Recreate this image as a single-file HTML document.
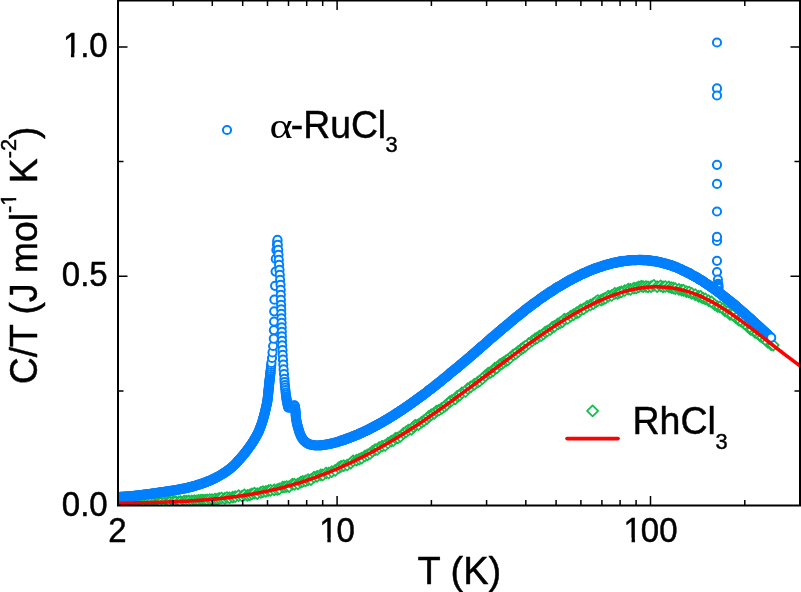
<!DOCTYPE html><html><head><meta charset="utf-8"><title>C/T plot</title><style>html,body{margin:0;padding:0;background:#fff}svg{display:block}text{font-family:"Liberation Sans",sans-serif;fill:#000;stroke:#000;stroke-width:.45px;stroke-linejoin:round}</style></head><body>
<svg width="801" height="592" viewBox="0 0 801 592">
<defs><clipPath id="c"><rect x="118" y="0" width="682" height="505.5"/></clipPath></defs>
<rect width="801" height="592" fill="#fff"/>
<g clip-path="url(#c)">
<g fill="#fff" stroke="#10be4a" stroke-width="1.75" stroke-linejoin="round">
<path d="M114.7 503.4L120.2 497.9L125.7 503.4L120.2 508.9Z"/>
<path d="M116.9 503.3L122.4 497.8L127.9 503.3L122.4 508.8Z"/>
<path d="M120.2 503.3L125.7 497.8L131.2 503.3L125.7 508.8Z"/>
<path d="M123.6 502.8L129.1 497.3L134.6 502.8L129.1 508.3Z"/>
<path d="M125.5 503.1L131 497.6L136.5 503.1L131 508.6Z"/>
<path d="M127.9 502.8L133.4 497.3L138.9 502.8L133.4 508.3Z"/>
<path d="M130.1 502.8L135.6 497.3L141.1 502.8L135.6 508.3Z"/>
<path d="M132.7 502.8L138.2 497.3L143.7 502.8L138.2 508.3Z"/>
<path d="M136.2 502.8L141.7 497.3L147.2 502.8L141.7 508.3Z"/>
<path d="M138.1 502.8L143.6 497.3L149.1 502.8L143.6 508.3Z"/>
<path d="M140.2 502.9L145.7 497.4L151.2 502.9L145.7 508.4Z"/>
<path d="M142.9 502.3L148.4 496.8L153.9 502.3L148.4 507.8Z"/>
<path d="M145.6 502.4L151.1 496.9L156.6 502.4L151.1 507.9Z"/>
<path d="M148.8 502.4L154.3 496.9L159.8 502.4L154.3 507.9Z"/>
<path d="M151.3 502.6L156.8 497.1L162.3 502.6L156.8 508.1Z"/>
<path d="M153.4 502.4L158.9 496.9L164.4 502.4L158.9 507.9Z"/>
<path d="M155.8 502.3L161.3 496.8L166.8 502.3L161.3 507.8Z"/>
<path d="M159.4 502.3L164.9 496.8L170.4 502.3L164.9 507.8Z"/>
<path d="M162.6 502.1L168.1 496.6L173.6 502.1L168.1 507.6Z"/>
<path d="M164.6 501.8L170.1 496.3L175.6 501.8L170.1 507.3Z"/>
<path d="M167.8 501.5L173.3 496L178.8 501.5L173.3 507Z"/>
<path d="M170.2 501.7L175.7 496.2L181.2 501.7L175.7 507.2Z"/>
<path d="M173.4 501.8L178.9 496.3L184.4 501.8L178.9 507.3Z"/>
<path d="M175.2 501.5L180.7 496L186.2 501.5L180.7 507Z"/>
<path d="M178.6 501L184.1 495.5L189.6 501L184.1 506.5Z"/>
<path d="M180.7 501.1L186.2 495.6L191.7 501.1L186.2 506.6Z"/>
<path d="M183.3 500.9L188.8 495.4L194.3 500.9L188.8 506.4Z"/>
<path d="M186.3 500.9L191.8 495.4L197.3 500.9L191.8 506.4Z"/>
<path d="M189 500.7L194.5 495.2L200 500.7L194.5 506.2Z"/>
<path d="M191.1 500.9L196.6 495.4L202.1 500.9L196.6 506.4Z"/>
<path d="M193.1 500.3L198.6 494.8L204.1 500.3L198.6 505.8Z"/>
<path d="M195.5 500.1L201 494.6L206.5 500.1L201 505.6Z"/>
<path d="M197.3 500.2L202.8 494.7L208.3 500.2L202.8 505.7Z"/>
<path d="M199.5 500.2L205 494.7L210.5 500.2L205 505.7Z"/>
<path d="M201.6 499.9L207.1 494.4L212.6 499.9L207.1 505.4Z"/>
<path d="M204.2 499.5L209.7 494L215.2 499.5L209.7 505Z"/>
<path d="M206.6 499.6L212.1 494.1L217.6 499.6L212.1 505.1Z"/>
<path d="M209.5 499L215 493.5L220.5 499L215 504.5Z"/>
<path d="M211.8 499.2L217.3 493.7L222.8 499.2L217.3 504.7Z"/>
<path d="M213.7 498.4L219.2 492.9L224.7 498.4L219.2 503.9Z"/>
<path d="M216.1 498L221.6 492.5L227.1 498L221.6 503.5Z"/>
<path d="M219.2 498.3L224.7 492.8L230.2 498.3L224.7 503.8Z"/>
<path d="M221.5 497.5L227 492L232.5 497.5L227 503Z"/>
<path d="M224 497.8L229.5 492.3L235 497.8L229.5 503.3Z"/>
<path d="M227.2 497.1L232.7 491.6L238.2 497.1L232.7 502.6Z"/>
<path d="M229.7 496.7L235.2 491.2L240.7 496.7L235.2 502.2Z"/>
<path d="M233.1 495.7L238.6 490.2L244.1 495.7L238.6 501.2Z"/>
<path d="M236.6 496L242.1 490.5L247.6 496L242.1 501.5Z"/>
<path d="M238.9 494.8L244.4 489.3L249.9 494.8L244.4 500.3Z"/>
<path d="M242 495.4L247.5 489.9L253 495.4L247.5 500.9Z"/>
<path d="M244.3 494.9L249.8 489.4L255.3 494.9L249.8 500.4Z"/>
<path d="M246.3 493.9L251.8 488.4L257.3 493.9L251.8 499.4Z"/>
<path d="M248.9 493.2L254.4 487.7L259.9 493.2L254.4 498.7Z"/>
<path d="M251.8 493.6L257.3 488.1L262.8 493.6L257.3 499.1Z"/>
<path d="M255.3 492.4L260.8 486.9L266.3 492.4L260.8 497.9Z"/>
<path d="M257.4 491.6L262.9 486.1L268.4 491.6L262.9 497.1Z"/>
<path d="M260.4 491.4L265.9 485.9L271.4 491.4L265.9 496.9Z"/>
<path d="M263.1 490.5L268.6 485L274.1 490.5L268.6 496Z"/>
<path d="M265.1 490.3L270.6 484.8L276.1 490.3L270.6 495.8Z"/>
<path d="M268.7 489.8L274.2 484.3L279.7 489.8L274.2 495.3Z"/>
<path d="M271.7 489.5L277.2 484L282.7 489.5L277.2 495Z"/>
<path d="M273.8 488.8L279.3 483.3L284.8 488.8L279.3 494.3Z"/>
<path d="M277.2 487L282.7 481.5L288.2 487L282.7 492.5Z"/>
<path d="M279.2 487L284.7 481.5L290.2 487L284.7 492.5Z"/>
<path d="M281.2 486.5L286.7 481L292.2 486.5L286.7 492Z"/>
<path d="M283.6 486.6L289.1 481.1L294.6 486.6L289.1 492.1Z"/>
<path d="M287 484.2L292.5 478.7L298 484.2L292.5 489.7Z"/>
<path d="M288.9 484.3L294.4 478.8L299.9 484.3L294.4 489.8Z"/>
<path d="M292.4 483.9L297.9 478.4L303.4 483.9L297.9 489.4Z"/>
<path d="M295.3 482.2L300.8 476.7L306.3 482.2L300.8 487.7Z"/>
<path d="M297.2 481.4L302.7 475.9L308.2 481.4L302.7 486.9Z"/>
<path d="M300 480.9L305.5 475.4L311 480.9L305.5 486.4Z"/>
<path d="M302.6 479.7L308.1 474.2L313.6 479.7L308.1 485.2Z"/>
<path d="M305.4 479.7L310.9 474.2L316.4 479.7L310.9 485.2Z"/>
<path d="M308.6 477.2L314.1 471.7L319.6 477.2L314.1 482.7Z"/>
<path d="M311.6 476.3L317.1 470.8L322.6 476.3L317.1 481.8Z"/>
<path d="M315.2 474.8L320.7 469.3L326.2 474.8L320.7 480.3Z"/>
<path d="M317.3 475L322.8 469.5L328.3 475L322.8 480.5Z"/>
<path d="M320.5 473L326 467.5L331.5 473L326 478.5Z"/>
<path d="M323.1 473L328.6 467.5L334.1 473L328.6 478.5Z"/>
<path d="M326.3 471.7L331.8 466.2L337.3 471.7L331.8 477.2Z"/>
<path d="M329.7 470.3L335.2 464.8L340.7 470.3L335.2 475.8Z"/>
<path d="M333.3 467.7L338.8 462.2L344.3 467.7L338.8 473.2Z"/>
<path d="M335.5 466.3L341 460.8L346.5 466.3L341 471.8Z"/>
<path d="M338.2 465.7L343.7 460.2L349.2 465.7L343.7 471.2Z"/>
<path d="M341.7 465L347.2 459.5L352.7 465L347.2 470.5Z"/>
<path d="M345.2 463.1L350.7 457.6L356.2 463.1L350.7 468.6Z"/>
<path d="M347.6 460.8L353.1 455.3L358.6 460.8L353.1 466.3Z"/>
<path d="M351.1 460.1L356.6 454.6L362.1 460.1L356.6 465.6Z"/>
<path d="M353.7 459.2L359.2 453.7L364.7 459.2L359.2 464.7Z"/>
<path d="M356.1 458.1L361.6 452.6L367.1 458.1L361.6 463.6Z"/>
<path d="M359.3 456L364.8 450.5L370.3 456L364.8 461.5Z"/>
<path d="M361.9 454.9L367.4 449.4L372.9 454.9L367.4 460.4Z"/>
<path d="M364.5 453.5L370 448L375.5 453.5L370 459Z"/>
<path d="M367 451.4L372.5 445.9L378 451.4L372.5 456.9Z"/>
<path d="M369.6 449.6L375.1 444.1L380.6 449.6L375.1 455.1Z"/>
<path d="M371.7 449.5L377.2 444L382.7 449.5L377.2 455Z"/>
<path d="M373.6 447.5L379.1 442L384.6 447.5L379.1 453Z"/>
<path d="M376.7 446.1L382.2 440.6L387.7 446.1L382.2 451.6Z"/>
<path d="M379.6 445.5L385.1 440L390.6 445.5L385.1 451Z"/>
<path d="M382.6 443L388.1 437.5L393.6 443L388.1 448.5Z"/>
<path d="M385.8 441.1L391.3 435.6L396.8 441.1L391.3 446.6Z"/>
<path d="M388 440.5L393.5 435L399 440.5L393.5 446Z"/>
<path d="M390.2 438.1L395.7 432.6L401.2 438.1L395.7 443.6Z"/>
<path d="M392.5 437.8L398 432.3L403.5 437.8L398 443.3Z"/>
<path d="M394.9 436.3L400.4 430.8L405.9 436.3L400.4 441.8Z"/>
<path d="M398.1 433.4L403.6 427.9L409.1 433.4L403.6 438.9Z"/>
<path d="M400.5 431.8L406 426.3L411.5 431.8L406 437.3Z"/>
<path d="M402.9 430L408.4 424.5L413.9 430L408.4 435.5Z"/>
<path d="M405.9 429.4L411.4 423.9L416.9 429.4L411.4 434.9Z"/>
<path d="M408 426.8L413.5 421.3L419 426.8L413.5 432.3Z"/>
<path d="M410 425.2L415.5 419.7L421 425.2L415.5 430.7Z"/>
<path d="M413 424.6L418.5 419.1L424 424.6L418.5 430.1Z"/>
<path d="M416.2 422.1L421.7 416.6L427.2 422.1L421.7 427.6Z"/>
<path d="M418.5 420.6L424 415.1L429.5 420.6L424 426.1Z"/>
<path d="M421.5 418.7L427 413.2L432.5 418.7L427 424.2Z"/>
<path d="M423.3 416.4L428.8 410.9L434.3 416.4L428.8 421.9Z"/>
<path d="M425.9 414.7L431.4 409.2L436.9 414.7L431.4 420.2Z"/>
<path d="M428.7 413.4L434.2 407.9L439.7 413.4L434.2 418.9Z"/>
<path d="M431 411.1L436.5 405.6L442 411.1L436.5 416.6Z"/>
<path d="M433.4 410.1L438.9 404.6L444.4 410.1L438.9 415.6Z"/>
<path d="M436.3 408.4L441.8 402.9L447.3 408.4L441.8 413.9Z"/>
<path d="M439.2 406.3L444.7 400.8L450.2 406.3L444.7 411.8Z"/>
<path d="M441.2 404.7L446.7 399.2L452.2 404.7L446.7 410.2Z"/>
<path d="M444.3 401.6L449.8 396.1L455.3 401.6L449.8 407.1Z"/>
<path d="M446.3 400.5L451.8 395L457.3 400.5L451.8 406Z"/>
<path d="M449.8 398.9L455.3 393.4L460.8 398.9L455.3 404.4Z"/>
<path d="M452 396.1L457.5 390.6L463 396.1L457.5 401.6Z"/>
<path d="M454.2 395.1L459.7 389.6L465.2 395.1L459.7 400.6Z"/>
<path d="M456.4 392.8L461.9 387.3L467.4 392.8L461.9 398.3Z"/>
<path d="M460 391.5L465.5 386L471 391.5L465.5 397Z"/>
<path d="M462.3 388.6L467.8 383.1L473.3 388.6L467.8 394.1Z"/>
<path d="M465.2 386.8L470.7 381.3L476.2 386.8L470.7 392.3Z"/>
<path d="M468.8 384.4L474.3 378.9L479.8 384.4L474.3 389.9Z"/>
<path d="M472.3 382L477.8 376.5L483.3 382L477.8 387.5Z"/>
<path d="M474.1 381L479.6 375.5L485.1 381L479.6 386.5Z"/>
<path d="M476.9 378.6L482.4 373.1L487.9 378.6L482.4 384.1Z"/>
<path d="M479.8 375.8L485.3 370.3L490.8 375.8L485.3 381.3Z"/>
<path d="M482.8 373.1L488.3 367.6L493.8 373.1L488.3 378.6Z"/>
<path d="M485.2 372.3L490.7 366.8L496.2 372.3L490.7 377.8Z"/>
<path d="M487.6 370.9L493.1 365.4L498.6 370.9L493.1 376.4Z"/>
<path d="M489.4 368L494.9 362.5L500.4 368L494.9 373.5Z"/>
<path d="M491.3 367.8L496.8 362.3L502.3 367.8L496.8 373.3Z"/>
<path d="M494.1 364.8L499.6 359.3L505.1 364.8L499.6 370.3Z"/>
<path d="M496 363.8L501.5 358.3L507 363.8L501.5 369.3Z"/>
<path d="M498.2 362.3L503.7 356.8L509.2 362.3L503.7 367.8Z"/>
<path d="M500.6 360.7L506.1 355.2L511.6 360.7L506.1 366.2Z"/>
<path d="M502.5 359.8L508 354.3L513.5 359.8L508 365.3Z"/>
<path d="M504.4 358L509.9 352.5L515.4 358L509.9 363.5Z"/>
<path d="M507.8 354.9L513.3 349.4L518.8 354.9L513.3 360.4Z"/>
<path d="M510.4 353.5L515.9 348L521.4 353.5L515.9 359Z"/>
<path d="M512.6 351.5L518.1 346L523.6 351.5L518.1 357Z"/>
<path d="M515.7 349.2L521.2 343.7L526.7 349.2L521.2 354.7Z"/>
<path d="M517.5 347.8L523 342.3L528.5 347.8L523 353.3Z"/>
<path d="M519.7 346.4L525.2 340.9L530.7 346.4L525.2 351.9Z"/>
<path d="M523.2 343.5L528.7 338L534.2 343.5L528.7 349Z"/>
<path d="M526.7 341L532.2 335.5L537.7 341L532.2 346.5Z"/>
<path d="M529.6 338.8L535.1 333.3L540.6 338.8L535.1 344.3Z"/>
<path d="M531.6 337.9L537.1 332.4L542.6 337.9L537.1 343.4Z"/>
<path d="M533.9 336L539.4 330.5L544.9 336L539.4 341.5Z"/>
<path d="M535.8 335.5L541.3 330L546.8 335.5L541.3 341Z"/>
<path d="M538 334L543.5 328.5L549 334L543.5 339.5Z"/>
<path d="M539.8 332L545.3 326.5L550.8 332L545.3 337.5Z"/>
<path d="M541.9 331L547.4 325.5L552.9 331L547.4 336.5Z"/>
<path d="M544.8 329.5L550.3 324L555.8 329.5L550.3 335Z"/>
<path d="M546.8 327.3L552.3 321.8L557.8 327.3L552.3 332.8Z"/>
<path d="M548.9 326.3L554.4 320.8L559.9 326.3L554.4 331.8Z"/>
<path d="M552.3 323.9L557.8 318.4L563.3 323.9L557.8 329.4Z"/>
<path d="M554.7 322.7L560.2 317.2L565.7 322.7L560.2 328.2Z"/>
<path d="M557.1 321.7L562.6 316.2L568.1 321.7L562.6 327.2Z"/>
<path d="M559 319.1L564.5 313.6L570 319.1L564.5 324.6Z"/>
<path d="M562.3 318.5L567.8 313L573.3 318.5L567.8 324Z"/>
<path d="M565.3 316.2L570.8 310.7L576.3 316.2L570.8 321.7Z"/>
<path d="M568.1 314.7L573.6 309.2L579.1 314.7L573.6 320.2Z"/>
<path d="M571 312.8L576.5 307.3L582 312.8L576.5 318.3Z"/>
<path d="M573 312.1L578.5 306.6L584 312.1L578.5 317.6Z"/>
<path d="M575.2 309.9L580.7 304.4L586.2 309.9L580.7 315.4Z"/>
<path d="M578.1 308.9L583.6 303.4L589.1 308.9L583.6 314.4Z"/>
<path d="M581.6 306.3L587.1 300.8L592.6 306.3L587.1 311.8Z"/>
<path d="M584.9 305L590.4 299.5L595.9 305L590.4 310.5Z"/>
<path d="M587.8 303.7L593.3 298.2L598.8 303.7L593.3 309.2Z"/>
<path d="M590.6 301.6L596.1 296.1L601.6 301.6L596.1 307.1Z"/>
<path d="M592.4 300.5L597.9 295L603.4 300.5L597.9 306Z"/>
<path d="M595.8 300.1L601.3 294.6L606.8 300.1L601.3 305.6Z"/>
<path d="M597.7 299.2L603.2 293.7L608.7 299.2L603.2 304.7Z"/>
<path d="M599.8 298.1L605.3 292.6L610.8 298.1L605.3 303.6Z"/>
<path d="M602.8 296.2L608.3 290.7L613.8 296.2L608.3 301.7Z"/>
<path d="M606.1 295.5L611.6 290L617.1 295.5L611.6 301Z"/>
<path d="M609.3 293.3L614.8 287.8L620.3 293.3L614.8 298.8Z"/>
<path d="M611.9 293.3L617.4 287.8L622.9 293.3L617.4 298.8Z"/>
<path d="M614 292.4L619.5 286.9L625 292.4L619.5 297.9Z"/>
<path d="M615.9 291.8L621.4 286.3L626.9 291.8L621.4 297.3Z"/>
<path d="M619.2 290.5L624.7 285L630.2 290.5L624.7 296Z"/>
<path d="M622.8 289.1L628.3 283.6L633.8 289.1L628.3 294.6Z"/>
<path d="M625 289.3L630.5 283.8L636 289.3L630.5 294.8Z"/>
<path d="M628.4 288.1L633.9 282.6L639.4 288.1L633.9 293.6Z"/>
<path d="M630.9 288L636.4 282.5L641.9 288L636.4 293.5Z"/>
<path d="M633.2 286.9L638.7 281.4L644.2 286.9L638.7 292.4Z"/>
<path d="M636 286.1L641.5 280.6L647 286.1L641.5 291.6Z"/>
<path d="M637.8 286.6L643.3 281.1L648.8 286.6L643.3 292.1Z"/>
<path d="M640.4 286.5L645.9 281L651.4 286.5L645.9 292Z"/>
<path d="M642.5 286.9L648 281.4L653.5 286.9L648 292.4Z"/>
<path d="M645.6 286.7L651.1 281.2L656.6 286.7L651.1 292.2Z"/>
<path d="M648.3 285.4L653.8 279.9L659.3 285.4L653.8 290.9Z"/>
<path d="M651.7 286.6L657.2 281.1L662.7 286.6L657.2 292.1Z"/>
<path d="M655.1 285.9L660.6 280.4L666.1 285.9L660.6 291.4Z"/>
<path d="M657.5 286.8L663 281.3L668.5 286.8L663 292.3Z"/>
<path d="M659.8 286.5L665.3 281L670.8 286.5L665.3 292Z"/>
<path d="M663.3 286.9L668.8 281.4L674.3 286.9L668.8 292.4Z"/>
<path d="M666 287.6L671.5 282.1L677 287.6L671.5 293.1Z"/>
<path d="M667.9 288L673.4 282.5L678.9 288L673.4 293.5Z"/>
<path d="M669.8 288.7L675.3 283.2L680.8 288.7L675.3 294.2Z"/>
<path d="M673.4 289.4L678.9 283.9L684.4 289.4L678.9 294.9Z"/>
<path d="M676.2 290.2L681.7 284.7L687.2 290.2L681.7 295.7Z"/>
<path d="M678.1 290.3L683.6 284.8L689.1 290.3L683.6 295.8Z"/>
<path d="M680.9 291.6L686.4 286.1L691.9 291.6L686.4 297.1Z"/>
<path d="M683.6 292.1L689.1 286.6L694.6 292.1L689.1 297.6Z"/>
<path d="M686.2 293.4L691.7 287.9L697.2 293.4L691.7 298.9Z"/>
<path d="M689.7 294.6L695.2 289.1L700.7 294.6L695.2 300.1Z"/>
<path d="M693.2 296.3L698.7 290.8L704.2 296.3L698.7 301.8Z"/>
<path d="M695.2 296.4L700.7 290.9L706.2 296.4L700.7 301.9Z"/>
<path d="M697.3 298.1L702.8 292.6L708.3 298.1L702.8 303.6Z"/>
<path d="M699.8 298.8L705.3 293.3L710.8 298.8L705.3 304.3Z"/>
<path d="M703.1 300.7L708.6 295.2L714.1 300.7L708.6 306.2Z"/>
<path d="M706 301.8L711.5 296.3L717 301.8L711.5 307.3Z"/>
<path d="M709.1 304.5L714.6 299L720.1 304.5L714.6 310Z"/>
<path d="M712 306.5L717.5 301L723 306.5L717.5 312Z"/>
<path d="M714.2 306.9L719.7 301.4L725.2 306.9L719.7 312.4Z"/>
<path d="M717.4 308.6L722.9 303.1L728.4 308.6L722.9 314.1Z"/>
<path d="M719.3 310.6L724.8 305.1L730.3 310.6L724.8 316.1Z"/>
<path d="M722.3 311.8L727.8 306.3L733.3 311.8L727.8 317.3Z"/>
<path d="M724.5 314.4L730 308.9L735.5 314.4L730 319.9Z"/>
<path d="M727.1 315L732.6 309.5L738.1 315L732.6 320.5Z"/>
<path d="M730.7 317.9L736.2 312.4L741.7 317.9L736.2 323.4Z"/>
<path d="M733.4 320.1L738.9 314.6L744.4 320.1L738.9 325.6Z"/>
<path d="M735.3 320.8L740.8 315.3L746.3 320.8L740.8 326.3Z"/>
<path d="M737.9 323L743.4 317.5L748.9 323L743.4 328.5Z"/>
<path d="M740.9 325.1L746.4 319.6L751.9 325.1L746.4 330.6Z"/>
<path d="M742.8 327.2L748.3 321.7L753.8 327.2L748.3 332.7Z"/>
<path d="M745.1 329.3L750.6 323.8L756.1 329.3L750.6 334.8Z"/>
<path d="M746.9 329.7L752.4 324.2L757.9 329.7L752.4 335.2Z"/>
<path d="M749.7 332.5L755.2 327L760.7 332.5L755.2 338Z"/>
<path d="M752.1 333.3L757.6 327.8L763.1 333.3L757.6 338.8Z"/>
<path d="M754.9 336.1L760.4 330.6L765.9 336.1L760.4 341.6Z"/>
<path d="M757.2 337.6L762.7 332.1L768.2 337.6L762.7 343.1Z"/>
<path d="M760.2 339.7L765.7 334.2L771.2 339.7L765.7 345.2Z"/>
<path d="M762.3 342.2L767.8 336.7L773.3 342.2L767.8 347.7Z"/>
<path d="M765.7 344.7L771.2 339.2L776.7 344.7L771.2 350.2Z"/>
<path d="M767.7 345.2L773.2 339.7L778.7 345.2L773.2 350.7Z"/>
</g>
<g fill="#fff" stroke="#0080ff" stroke-width="2">
<circle cx="118" cy="497" r="4.1"/>
<circle cx="119" cy="497" r="4.1"/>
<circle cx="120" cy="496.9" r="4.1"/>
<circle cx="121" cy="496.9" r="4.1"/>
<circle cx="122" cy="496.8" r="4.1"/>
<circle cx="123" cy="496.8" r="4.1"/>
<circle cx="124" cy="496.7" r="4.1"/>
<circle cx="125" cy="496.7" r="4.1"/>
<circle cx="126" cy="496.6" r="4.1"/>
<circle cx="127" cy="496.5" r="4.1"/>
<circle cx="128" cy="496.4" r="4.1"/>
<circle cx="129" cy="496.4" r="4.1"/>
<circle cx="130" cy="496.3" r="4.1"/>
<circle cx="131" cy="496.2" r="4.1"/>
<circle cx="132" cy="496.1" r="4.1"/>
<circle cx="133" cy="496" r="4.1"/>
<circle cx="134" cy="495.9" r="4.1"/>
<circle cx="135" cy="495.8" r="4.1"/>
<circle cx="135.9" cy="495.7" r="4.1"/>
<circle cx="136.9" cy="495.6" r="4.1"/>
<circle cx="137.9" cy="495.5" r="4.1"/>
<circle cx="138.9" cy="495.4" r="4.1"/>
<circle cx="139.9" cy="495.3" r="4.1"/>
<circle cx="140.9" cy="495.1" r="4.1"/>
<circle cx="141.9" cy="495" r="4.1"/>
<circle cx="142.9" cy="494.9" r="4.1"/>
<circle cx="143.9" cy="494.7" r="4.1"/>
<circle cx="144.9" cy="494.6" r="4.1"/>
<circle cx="145.9" cy="494.5" r="4.1"/>
<circle cx="146.9" cy="494.3" r="4.1"/>
<circle cx="147.9" cy="494.2" r="4.1"/>
<circle cx="148.9" cy="494.1" r="4.1"/>
<circle cx="149.8" cy="494" r="4.1"/>
<circle cx="150.8" cy="493.8" r="4.1"/>
<circle cx="151.8" cy="493.7" r="4.1"/>
<circle cx="152.8" cy="493.5" r="4.1"/>
<circle cx="153.8" cy="493.4" r="4.1"/>
<circle cx="154.8" cy="493.3" r="4.1"/>
<circle cx="155.8" cy="493.1" r="4.1"/>
<circle cx="156.8" cy="493" r="4.1"/>
<circle cx="157.8" cy="492.8" r="4.1"/>
<circle cx="158.8" cy="492.7" r="4.1"/>
<circle cx="159.7" cy="492.5" r="4.1"/>
<circle cx="160.7" cy="492.4" r="4.1"/>
<circle cx="161.7" cy="492.2" r="4.1"/>
<circle cx="162.7" cy="492.1" r="4.1"/>
<circle cx="163.7" cy="492" r="4.1"/>
<circle cx="164.7" cy="491.8" r="4.1"/>
<circle cx="165.7" cy="491.7" r="4.1"/>
<circle cx="166.7" cy="491.5" r="4.1"/>
<circle cx="167.7" cy="491.4" r="4.1"/>
<circle cx="168.6" cy="491.2" r="4.1"/>
<circle cx="169.6" cy="491.1" r="4.1"/>
<circle cx="170.6" cy="490.9" r="4.1"/>
<circle cx="171.6" cy="490.8" r="4.1"/>
<circle cx="172.6" cy="490.6" r="4.1"/>
<circle cx="173.6" cy="490.5" r="4.1"/>
<circle cx="174.6" cy="490.3" r="4.1"/>
<circle cx="175.6" cy="490.1" r="4.1"/>
<circle cx="176.5" cy="490" r="4.1"/>
<circle cx="177.5" cy="489.8" r="4.1"/>
<circle cx="178.5" cy="489.6" r="4.1"/>
<circle cx="179.5" cy="489.4" r="4.1"/>
<circle cx="180.5" cy="489.2" r="4.1"/>
<circle cx="181.5" cy="489.1" r="4.1"/>
<circle cx="182.4" cy="488.9" r="4.1"/>
<circle cx="183.4" cy="488.7" r="4.1"/>
<circle cx="184.4" cy="488.5" r="4.1"/>
<circle cx="185.4" cy="488.3" r="4.1"/>
<circle cx="186.4" cy="488.1" r="4.1"/>
<circle cx="187.3" cy="487.8" r="4.1"/>
<circle cx="188.3" cy="487.6" r="4.1"/>
<circle cx="189.3" cy="487.4" r="4.1"/>
<circle cx="190.3" cy="487.1" r="4.1"/>
<circle cx="191.2" cy="486.9" r="4.1"/>
<circle cx="192.2" cy="486.6" r="4.1"/>
<circle cx="193.2" cy="486.4" r="4.1"/>
<circle cx="194.1" cy="486.1" r="4.1"/>
<circle cx="195.1" cy="485.8" r="4.1"/>
<circle cx="196.1" cy="485.5" r="4.1"/>
<circle cx="197" cy="485.2" r="4.1"/>
<circle cx="198" cy="484.9" r="4.1"/>
<circle cx="198.9" cy="484.6" r="4.1"/>
<circle cx="199.9" cy="484.3" r="4.1"/>
<circle cx="200.9" cy="484" r="4.1"/>
<circle cx="201.8" cy="483.7" r="4.1"/>
<circle cx="202.8" cy="483.4" r="4.1"/>
<circle cx="203.7" cy="483" r="4.1"/>
<circle cx="204.6" cy="482.7" r="4.1"/>
<circle cx="205.6" cy="482.3" r="4.1"/>
<circle cx="206.5" cy="482" r="4.1"/>
<circle cx="207.4" cy="481.6" r="4.1"/>
<circle cx="208.3" cy="481.2" r="4.1"/>
<circle cx="209.3" cy="480.8" r="4.1"/>
<circle cx="210.2" cy="480.5" r="4.1"/>
<circle cx="211.1" cy="480.1" r="4.1"/>
<circle cx="212" cy="479.7" r="4.1"/>
<circle cx="212.9" cy="479.2" r="4.1"/>
<circle cx="213.8" cy="478.8" r="4.1"/>
<circle cx="214.7" cy="478.4" r="4.1"/>
<circle cx="215.6" cy="477.9" r="4.1"/>
<circle cx="216.5" cy="477.4" r="4.1"/>
<circle cx="217.4" cy="477" r="4.1"/>
<circle cx="218.3" cy="476.5" r="4.1"/>
<circle cx="219.1" cy="476" r="4.1"/>
<circle cx="220" cy="475.5" r="4.1"/>
<circle cx="220.9" cy="475" r="4.1"/>
<circle cx="221.8" cy="474.5" r="4.1"/>
<circle cx="222.6" cy="473.9" r="4.1"/>
<circle cx="223.5" cy="473.4" r="4.1"/>
<circle cx="224.3" cy="472.8" r="4.1"/>
<circle cx="225.2" cy="472.3" r="4.1"/>
<circle cx="226" cy="471.7" r="4.1"/>
<circle cx="226.8" cy="471.1" r="4.1"/>
<circle cx="227.6" cy="470.6" r="4.1"/>
<circle cx="228.4" cy="470" r="4.1"/>
<circle cx="229.2" cy="469.4" r="4.1"/>
<circle cx="230" cy="468.8" r="4.1"/>
<circle cx="230.8" cy="468.2" r="4.1"/>
<circle cx="231.6" cy="467.5" r="4.1"/>
<circle cx="232.3" cy="466.9" r="4.1"/>
<circle cx="233" cy="466.2" r="4.1"/>
<circle cx="233.8" cy="465.5" r="4.1"/>
<circle cx="234.5" cy="464.8" r="4.1"/>
<circle cx="235.2" cy="464.1" r="4.1"/>
<circle cx="235.9" cy="463.3" r="4.1"/>
<circle cx="236.6" cy="462.6" r="4.1"/>
<circle cx="237.3" cy="461.8" r="4.1"/>
<circle cx="237.9" cy="461.1" r="4.1"/>
<circle cx="238.6" cy="460.3" r="4.1"/>
<circle cx="239.3" cy="459.6" r="4.1"/>
<circle cx="240" cy="458.8" r="4.1"/>
<circle cx="240.6" cy="458.1" r="4.1"/>
<circle cx="241.3" cy="457.3" r="4.1"/>
<circle cx="242" cy="456.5" r="4.1"/>
<circle cx="242.6" cy="455.8" r="4.1"/>
<circle cx="243.3" cy="455" r="4.1"/>
<circle cx="243.9" cy="454.2" r="4.1"/>
<circle cx="244.6" cy="453.4" r="4.1"/>
<circle cx="245.2" cy="452.7" r="4.1"/>
<circle cx="245.8" cy="451.9" r="4.1"/>
<circle cx="246.4" cy="451.1" r="4.1"/>
<circle cx="247" cy="450.3" r="4.1"/>
<circle cx="247.6" cy="449.5" r="4.1"/>
<circle cx="248.2" cy="448.6" r="4.1"/>
<circle cx="248.8" cy="447.8" r="4.1"/>
<circle cx="249.4" cy="447" r="4.1"/>
<circle cx="250" cy="446.2" r="4.1"/>
<circle cx="250.6" cy="445.4" r="4.1"/>
<circle cx="251.2" cy="444.5" r="4.1"/>
<circle cx="251.7" cy="443.7" r="4.1"/>
<circle cx="252.3" cy="442.9" r="4.1"/>
<circle cx="252.8" cy="442" r="4.1"/>
<circle cx="253.3" cy="441.2" r="4.1"/>
<circle cx="253.9" cy="440.3" r="4.1"/>
<circle cx="254.4" cy="439.4" r="4.1"/>
<circle cx="254.9" cy="438.6" r="4.1"/>
<circle cx="255.4" cy="437.7" r="4.1"/>
<circle cx="255.9" cy="436.8" r="4.1"/>
<circle cx="256.4" cy="436" r="4.1"/>
<circle cx="256.9" cy="435.1" r="4.1"/>
<circle cx="257.3" cy="434.2" r="4.1"/>
<circle cx="257.8" cy="433.3" r="4.1"/>
<circle cx="258.2" cy="432.4" r="4.1"/>
<circle cx="258.7" cy="431.5" r="4.1"/>
<circle cx="259.1" cy="430.6" r="4.1"/>
<circle cx="259.4" cy="429.6" r="4.1"/>
<circle cx="259.8" cy="428.7" r="4.1"/>
<circle cx="260.2" cy="427.8" r="4.1"/>
<circle cx="260.5" cy="426.8" r="4.1"/>
<circle cx="260.9" cy="425.9" r="4.1"/>
<circle cx="261.2" cy="425" r="4.1"/>
<circle cx="261.5" cy="424" r="4.1"/>
<circle cx="261.9" cy="423" r="4.1"/>
<circle cx="262.2" cy="422.1" r="4.1"/>
<circle cx="262.5" cy="421.1" r="4.1"/>
<circle cx="262.8" cy="420.2" r="4.1"/>
<circle cx="263" cy="419.2" r="4.1"/>
<circle cx="263.3" cy="418.2" r="4.1"/>
<circle cx="263.6" cy="417.3" r="4.1"/>
<circle cx="263.9" cy="416.3" r="4.1"/>
<circle cx="264.1" cy="415.3" r="4.1"/>
<circle cx="264.4" cy="414.4" r="4.1"/>
<circle cx="264.6" cy="413.4" r="4.1"/>
<circle cx="264.9" cy="412.4" r="4.1"/>
<circle cx="265.1" cy="411.5" r="4.1"/>
<circle cx="265.3" cy="410.5" r="4.1"/>
<circle cx="265.5" cy="409.5" r="4.1"/>
<circle cx="265.8" cy="408.5" r="4.1"/>
<circle cx="266" cy="407.6" r="4.1"/>
<circle cx="266.2" cy="406.6" r="4.1"/>
<circle cx="266.4" cy="405.6" r="4.1"/>
<circle cx="266.7" cy="404.6" r="4.1"/>
<circle cx="266.9" cy="403.6" r="4.1"/>
<circle cx="267.1" cy="402.6" r="4.1"/>
<circle cx="267.2" cy="401.7" r="4.1"/>
<circle cx="267.4" cy="400.7" r="4.1"/>
<circle cx="267.5" cy="399.7" r="4.1"/>
<circle cx="267.7" cy="398.7" r="4.1"/>
<circle cx="267.8" cy="397.7" r="4.1"/>
<circle cx="267.9" cy="396.7" r="4.1"/>
<circle cx="268" cy="395.7" r="4.1"/>
<circle cx="268.1" cy="394.7" r="4.1"/>
<circle cx="268.2" cy="393.7" r="4.1"/>
<circle cx="268.3" cy="392.7" r="4.1"/>
<circle cx="268.4" cy="391.7" r="4.1"/>
<circle cx="268.5" cy="390.7" r="4.1"/>
<circle cx="268.6" cy="389.7" r="4.1"/>
<circle cx="268.7" cy="388.8" r="4.1"/>
<circle cx="268.8" cy="387.8" r="4.1"/>
<circle cx="268.9" cy="386.8" r="4.1"/>
<circle cx="269" cy="385.8" r="4.1"/>
<circle cx="269.1" cy="384.8" r="4.1"/>
<circle cx="269.2" cy="383.8" r="4.1"/>
<circle cx="269.3" cy="382.8" r="4.1"/>
<circle cx="269.4" cy="381.8" r="4.1"/>
<circle cx="269.5" cy="380.8" r="4.1"/>
<circle cx="269.6" cy="379.8" r="4.1"/>
<circle cx="269.7" cy="378.8" r="4.1"/>
<circle cx="269.9" cy="377.8" r="4.1"/>
<circle cx="270" cy="376.8" r="4.1"/>
<circle cx="270.1" cy="375.8" r="4.1"/>
<circle cx="270.2" cy="374.8" r="4.1"/>
<circle cx="270.3" cy="373.8" r="4.1"/>
<circle cx="270.4" cy="372.8" r="4.1"/>
<circle cx="270.5" cy="371.8" r="4.1"/>
<circle cx="270.6" cy="370.8" r="4.1"/>
<circle cx="270.8" cy="368.9" r="4.1"/>
<circle cx="271" cy="366.9" r="4.1"/>
<circle cx="271.2" cy="364.9" r="4.1"/>
<circle cx="271.4" cy="362.9" r="4.1"/>
<circle cx="272" cy="358" r="4.1"/>
<circle cx="272.5" cy="352.4" r="4.1"/>
<circle cx="273.1" cy="346" r="4.1"/>
<circle cx="273.8" cy="338.7" r="4.1"/>
<circle cx="273.9" cy="330.1" r="4.1"/>
<circle cx="274.1" cy="321.5" r="4.1"/>
<circle cx="274.2" cy="311.3" r="4.1"/>
<circle cx="274.4" cy="299.7" r="4.1"/>
<circle cx="275.1" cy="285.8" r="4.1"/>
<circle cx="275.6" cy="271.6" r="4.1"/>
<circle cx="275.8" cy="258.9" r="4.1"/>
<circle cx="276.4" cy="250" r="4.1"/>
<circle cx="277" cy="244.5" r="4.1"/>
<circle cx="277.3" cy="241.5" r="4.1"/>
<circle cx="277.5" cy="239.8" r="4.1"/>
<circle cx="277.8" cy="244.8" r="4.1"/>
<circle cx="278.2" cy="249.8" r="4.1"/>
<circle cx="278.5" cy="254.8" r="4.1"/>
<circle cx="278.8" cy="259.8" r="4.1"/>
<circle cx="279.1" cy="264.8" r="4.1"/>
<circle cx="279.5" cy="269.8" r="4.1"/>
<circle cx="279.8" cy="274.8" r="4.1"/>
<circle cx="280.1" cy="279.8" r="4.1"/>
<circle cx="280.5" cy="284.8" r="4.1"/>
<circle cx="280.7" cy="289.8" r="4.1"/>
<circle cx="280.8" cy="294.8" r="4.1"/>
<circle cx="280.9" cy="299.8" r="4.1"/>
<circle cx="281.1" cy="304.8" r="4.1"/>
<circle cx="281.2" cy="309.3" r="4.1"/>
<circle cx="281.3" cy="313.8" r="4.1"/>
<circle cx="281.4" cy="318.3" r="4.1"/>
<circle cx="281.6" cy="322.8" r="4.1"/>
<circle cx="281.7" cy="327.3" r="4.1"/>
<circle cx="281.8" cy="331.8" r="4.1"/>
<circle cx="281.9" cy="336.3" r="4.1"/>
<circle cx="282" cy="340.8" r="4.1"/>
<circle cx="282.2" cy="345.3" r="4.1"/>
<circle cx="282.5" cy="350.1" r="4.1"/>
<circle cx="282.7" cy="354.9" r="4.1"/>
<circle cx="283" cy="359.7" r="4.1"/>
<circle cx="283.3" cy="364.5" r="4.1"/>
<circle cx="283.6" cy="369.3" r="4.1"/>
<circle cx="284" cy="374.1" r="4.1"/>
<circle cx="284.4" cy="378.9" r="4.1"/>
<circle cx="284.6" cy="382.1" r="4.1"/>
<circle cx="284.9" cy="385" r="4.1"/>
<circle cx="285.1" cy="387.7" r="4.1"/>
<circle cx="285.4" cy="390.2" r="4.1"/>
<circle cx="285.7" cy="392.5" r="4.1"/>
<circle cx="285.9" cy="394.6" r="4.1"/>
<circle cx="286.1" cy="396.5" r="4.1"/>
<circle cx="286.4" cy="397.9" r="4.1"/>
<circle cx="286.6" cy="399.3" r="4.1"/>
<circle cx="286.8" cy="400.7" r="4.1"/>
<circle cx="287" cy="402.1" r="4.1"/>
<circle cx="287.3" cy="403.5" r="4.1"/>
<circle cx="287.7" cy="404.9" r="4.1"/>
<circle cx="288.2" cy="406.3" r="4.1"/>
<circle cx="288.3" cy="407.7" r="4.1"/>
<circle cx="288.3" cy="406.5" r="4.1"/>
<circle cx="289.5" cy="407.4" r="4.1"/>
<circle cx="290.6" cy="407.6" r="4.1"/>
<circle cx="291.7" cy="406.9" r="4.1"/>
<circle cx="292.8" cy="406" r="4.1"/>
<circle cx="294.1" cy="405.3" r="4.1"/>
<circle cx="294.7" cy="405.5" r="4.1"/>
<circle cx="295" cy="406.7" r="4.1"/>
<circle cx="295.2" cy="408.4" r="4.1"/>
<circle cx="295.4" cy="409.7" r="4.1"/>
<circle cx="295.5" cy="411" r="4.1"/>
<circle cx="295.6" cy="412.3" r="4.1"/>
<circle cx="295.6" cy="413.6" r="4.1"/>
<circle cx="295.7" cy="414.9" r="4.1"/>
<circle cx="295.8" cy="416.2" r="4.1"/>
<circle cx="296" cy="417.5" r="4.1"/>
<circle cx="296.1" cy="418.8" r="4.1"/>
<circle cx="296.3" cy="420.1" r="4.1"/>
<circle cx="296.6" cy="421.4" r="4.1"/>
<circle cx="296.8" cy="422.6" r="4.1"/>
<circle cx="297.1" cy="423.9" r="4.1"/>
<circle cx="297.4" cy="425.2" r="4.1"/>
<circle cx="297.8" cy="426.5" r="4.1"/>
<circle cx="298.1" cy="427.7" r="4.1"/>
<circle cx="298.5" cy="429" r="4.1"/>
<circle cx="298.8" cy="430.2" r="4.1"/>
<circle cx="299.2" cy="431.4" r="4.1"/>
<circle cx="299.6" cy="432.7" r="4.1"/>
<circle cx="300.1" cy="433.9" r="4.1"/>
<circle cx="300.6" cy="435.1" r="4.1"/>
<circle cx="301.1" cy="436.3" r="4.1"/>
<circle cx="301.7" cy="437.4" r="4.1"/>
<circle cx="302.4" cy="438.6" r="4.1"/>
<circle cx="303.2" cy="439.7" r="4.1"/>
<circle cx="304" cy="440.7" r="4.1"/>
<circle cx="304.9" cy="441.5" r="4.1"/>
<circle cx="305.9" cy="442.3" r="4.1"/>
<circle cx="307" cy="443.1" r="4.1"/>
<circle cx="308.2" cy="443.8" r="4.1"/>
<circle cx="309.4" cy="444.3" r="4.1"/>
<circle cx="310.6" cy="444.7" r="4.1"/>
<circle cx="311.9" cy="445" r="4.1"/>
<circle cx="313.1" cy="445.2" r="4.1"/>
<circle cx="314.5" cy="445.3" r="4.1"/>
<circle cx="315.8" cy="445.5" r="4.1"/>
<circle cx="317.1" cy="445.5" r="4.1"/>
<circle cx="318.4" cy="445.5" r="4.1"/>
<circle cx="319.7" cy="445.4" r="4.1"/>
<circle cx="321" cy="445.3" r="4.1"/>
<circle cx="322.3" cy="445.1" r="4.1"/>
<circle cx="323.6" cy="445" r="4.1"/>
<circle cx="324.8" cy="444.8" r="4.1"/>
<circle cx="326.1" cy="444.6" r="4.1"/>
<circle cx="327.4" cy="444.4" r="4.1"/>
<circle cx="328.7" cy="444.1" r="4.1"/>
<circle cx="330" cy="443.9" r="4.1"/>
<circle cx="331.2" cy="443.6" r="4.1"/>
<circle cx="332.5" cy="443.3" r="4.1"/>
<circle cx="333.8" cy="443" r="4.1"/>
<circle cx="335" cy="442.7" r="4.1"/>
<circle cx="336.3" cy="442.4" r="4.1"/>
<circle cx="337.5" cy="442.1" r="4.1"/>
<circle cx="338.8" cy="441.7" r="4.1"/>
</g>
<g fill="none" stroke="#0080ff" stroke-width="2">
<circle cx="340" cy="441.2" r="4.1"/>
<circle cx="340.7" cy="440.9" r="4.1"/>
<circle cx="341.3" cy="440.7" r="4.1"/>
<circle cx="342" cy="440.5" r="4.1"/>
<circle cx="342.7" cy="440.3" r="4.1"/>
<circle cx="343.3" cy="440.1" r="4.1"/>
<circle cx="344" cy="439.8" r="4.1"/>
<circle cx="344.7" cy="439.6" r="4.1"/>
<circle cx="345.3" cy="439.4" r="4.1"/>
<circle cx="346" cy="439.2" r="4.1"/>
<circle cx="346.6" cy="438.9" r="4.1"/>
<circle cx="347.3" cy="438.7" r="4.1"/>
<circle cx="348" cy="438.4" r="4.1"/>
<circle cx="348.6" cy="438.2" r="4.1"/>
<circle cx="349.3" cy="438" r="4.1"/>
<circle cx="349.9" cy="437.7" r="4.1"/>
<circle cx="350.6" cy="437.5" r="4.1"/>
<circle cx="351.2" cy="437.2" r="4.1"/>
<circle cx="351.9" cy="437" r="4.1"/>
<circle cx="352.5" cy="436.7" r="4.1"/>
<circle cx="353.2" cy="436.4" r="4.1"/>
<circle cx="353.8" cy="436.2" r="4.1"/>
<circle cx="354.5" cy="435.9" r="4.1"/>
<circle cx="355.1" cy="435.6" r="4.1"/>
<circle cx="355.8" cy="435.4" r="4.1"/>
<circle cx="356.4" cy="435.1" r="4.1"/>
<circle cx="357.1" cy="434.8" r="4.1"/>
<circle cx="357.7" cy="434.6" r="4.1"/>
<circle cx="358.3" cy="434.3" r="4.1"/>
<circle cx="359" cy="434" r="4.1"/>
<circle cx="359.6" cy="433.7" r="4.1"/>
<circle cx="360.3" cy="433.4" r="4.1"/>
<circle cx="360.9" cy="433.1" r="4.1"/>
<circle cx="361.5" cy="432.8" r="4.1"/>
<circle cx="362.2" cy="432.6" r="4.1"/>
<circle cx="362.8" cy="432.3" r="4.1"/>
<circle cx="363.4" cy="432" r="4.1"/>
<circle cx="364.1" cy="431.6" r="4.1"/>
<circle cx="364.7" cy="431.4" r="4.1"/>
<circle cx="365.3" cy="431.1" r="4.1"/>
<circle cx="366" cy="430.8" r="4.1"/>
<circle cx="366.6" cy="430.5" r="4.1"/>
<circle cx="367.2" cy="430.2" r="4.1"/>
<circle cx="367.9" cy="429.9" r="4.1"/>
<circle cx="368.5" cy="429.6" r="4.1"/>
<circle cx="369.1" cy="429.3" r="4.1"/>
<circle cx="369.7" cy="428.9" r="4.1"/>
<circle cx="370.4" cy="428.6" r="4.1"/>
<circle cx="371" cy="428.3" r="4.1"/>
<circle cx="371.6" cy="428" r="4.1"/>
<circle cx="372.2" cy="427.6" r="4.1"/>
<circle cx="372.9" cy="427.3" r="4.1"/>
<circle cx="373.5" cy="426.9" r="4.1"/>
<circle cx="374.1" cy="426.7" r="4.1"/>
<circle cx="374.7" cy="426.3" r="4.1"/>
<circle cx="375.3" cy="426" r="4.1"/>
<circle cx="376" cy="425.7" r="4.1"/>
<circle cx="376.6" cy="425.3" r="4.1"/>
<circle cx="377.2" cy="425.1" r="4.1"/>
<circle cx="377.8" cy="424.7" r="4.1"/>
<circle cx="378.4" cy="424.4" r="4.1"/>
<circle cx="379" cy="424" r="4.1"/>
<circle cx="379.6" cy="423.7" r="4.1"/>
<circle cx="380.2" cy="423.3" r="4.1"/>
<circle cx="380.9" cy="423" r="4.1"/>
<circle cx="381.5" cy="422.6" r="4.1"/>
<circle cx="382.1" cy="422.3" r="4.1"/>
<circle cx="382.7" cy="421.9" r="4.1"/>
<circle cx="383.3" cy="421.7" r="4.1"/>
<circle cx="383.9" cy="421.2" r="4.1"/>
<circle cx="384.5" cy="420.9" r="4.1"/>
<circle cx="385.1" cy="420.5" r="4.1"/>
<circle cx="385.7" cy="420.2" r="4.1"/>
<circle cx="386.3" cy="419.8" r="4.1"/>
<circle cx="386.9" cy="419.4" r="4.1"/>
<circle cx="387.5" cy="419.2" r="4.1"/>
<circle cx="388.1" cy="418.8" r="4.1"/>
<circle cx="388.7" cy="418.4" r="4.1"/>
<circle cx="389.3" cy="418" r="4.1"/>
<circle cx="389.9" cy="417.6" r="4.1"/>
<circle cx="390.5" cy="417.2" r="4.1"/>
<circle cx="391.1" cy="417" r="4.1"/>
<circle cx="391.7" cy="416.5" r="4.1"/>
<circle cx="392.3" cy="416.1" r="4.1"/>
<circle cx="392.9" cy="415.9" r="4.1"/>
<circle cx="393.5" cy="415.5" r="4.1"/>
<circle cx="394.1" cy="415.1" r="4.1"/>
<circle cx="394.6" cy="414.7" r="4.1"/>
<circle cx="395.2" cy="414.3" r="4.1"/>
<circle cx="395.8" cy="413.9" r="4.1"/>
<circle cx="396.4" cy="413.4" r="4.1"/>
<circle cx="397" cy="413.2" r="4.1"/>
<circle cx="397.6" cy="412.8" r="4.1"/>
<circle cx="398.2" cy="412.4" r="4.1"/>
<circle cx="398.8" cy="412" r="4.1"/>
<circle cx="399.4" cy="411.7" r="4.1"/>
<circle cx="399.9" cy="411.1" r="4.1"/>
<circle cx="400.5" cy="410.8" r="4.1"/>
<circle cx="401.1" cy="410.4" r="4.1"/>
<circle cx="401.7" cy="410" r="4.1"/>
<circle cx="402.3" cy="409.8" r="4.1"/>
<circle cx="402.8" cy="409.4" r="4.1"/>
<circle cx="403.4" cy="408.9" r="4.1"/>
<circle cx="404" cy="408.5" r="4.1"/>
<circle cx="404.6" cy="408.2" r="4.1"/>
<circle cx="405.2" cy="407.7" r="4.1"/>
<circle cx="405.7" cy="407.4" r="4.1"/>
<circle cx="406.3" cy="407" r="4.1"/>
<circle cx="406.9" cy="406.5" r="4.1"/>
<circle cx="407.5" cy="406.2" r="4.1"/>
<circle cx="408.1" cy="405.8" r="4.1"/>
<circle cx="408.6" cy="405.5" r="4.1"/>
<circle cx="409.2" cy="404.9" r="4.1"/>
<circle cx="409.8" cy="404.7" r="4.1"/>
<circle cx="410.3" cy="404" r="4.1"/>
<circle cx="410.9" cy="403.8" r="4.1"/>
<circle cx="411.5" cy="403.4" r="4.1"/>
<circle cx="412.1" cy="402.8" r="4.1"/>
<circle cx="412.6" cy="402.5" r="4.1"/>
<circle cx="413.2" cy="402.2" r="4.1"/>
<circle cx="413.8" cy="401.6" r="4.1"/>
<circle cx="414.3" cy="401.4" r="4.1"/>
<circle cx="414.9" cy="401" r="4.1"/>
<circle cx="415.5" cy="400.5" r="4.1"/>
<circle cx="416" cy="400.2" r="4.1"/>
<circle cx="416.6" cy="399.6" r="4.1"/>
<circle cx="417.2" cy="399.2" r="4.1"/>
<circle cx="417.7" cy="398.8" r="4.1"/>
<circle cx="418.3" cy="398.3" r="4.1"/>
<circle cx="418.9" cy="398" r="4.1"/>
<circle cx="419.4" cy="397.7" r="4.1"/>
<circle cx="420" cy="397.2" r="4.1"/>
<circle cx="420.6" cy="396.7" r="4.1"/>
<circle cx="421.1" cy="396.3" r="4.1"/>
<circle cx="421.7" cy="396.1" r="4.1"/>
<circle cx="422.2" cy="395.5" r="4.1"/>
<circle cx="422.8" cy="395.3" r="4.1"/>
<circle cx="423.4" cy="394.7" r="4.1"/>
<circle cx="423.9" cy="394.3" r="4.1"/>
<circle cx="424.5" cy="394" r="4.1"/>
<circle cx="425" cy="393.5" r="4.1"/>
<circle cx="425.6" cy="393" r="4.1"/>
<circle cx="426.2" cy="392.5" r="4.1"/>
<circle cx="426.7" cy="392.3" r="4.1"/>
<circle cx="427.3" cy="391.7" r="4.1"/>
<circle cx="427.8" cy="391.4" r="4.1"/>
<circle cx="428.4" cy="390.7" r="4.1"/>
<circle cx="428.9" cy="390.4" r="4.1"/>
<circle cx="429.5" cy="390" r="4.1"/>
<circle cx="430" cy="389.7" r="4.1"/>
<circle cx="430.6" cy="389.1" r="4.1"/>
<circle cx="431.2" cy="388.8" r="4.1"/>
<circle cx="431.7" cy="388.4" r="4.1"/>
<circle cx="432.3" cy="388" r="4.1"/>
<circle cx="432.8" cy="387.5" r="4.1"/>
<circle cx="433.4" cy="387.2" r="4.1"/>
<circle cx="433.9" cy="386.5" r="4.1"/>
<circle cx="434.5" cy="386.1" r="4.1"/>
<circle cx="435" cy="385.6" r="4.1"/>
<circle cx="435.6" cy="385.1" r="4.1"/>
<circle cx="436.1" cy="384.7" r="4.1"/>
<circle cx="436.7" cy="384.6" r="4.1"/>
<circle cx="437.2" cy="384.1" r="4.1"/>
<circle cx="437.8" cy="383.4" r="4.1"/>
<circle cx="438.3" cy="383.1" r="4.1"/>
<circle cx="438.9" cy="382.7" r="4.1"/>
<circle cx="439.4" cy="382.3" r="4.1"/>
<circle cx="439.9" cy="381.9" r="4.1"/>
<circle cx="440.5" cy="381.3" r="4.1"/>
<circle cx="441" cy="381.1" r="4.1"/>
<circle cx="441.6" cy="380.5" r="4.1"/>
<circle cx="442.1" cy="380.1" r="4.1"/>
<circle cx="442.7" cy="379.7" r="4.1"/>
<circle cx="443.2" cy="379" r="4.1"/>
<circle cx="443.8" cy="378.5" r="4.1"/>
<circle cx="444.3" cy="378.2" r="4.1"/>
<circle cx="444.8" cy="378" r="4.1"/>
<circle cx="445.4" cy="377.5" r="4.1"/>
<circle cx="445.9" cy="377.1" r="4.1"/>
<circle cx="446.5" cy="376.3" r="4.1"/>
<circle cx="447" cy="376.3" r="4.1"/>
<circle cx="447.6" cy="375.8" r="4.1"/>
<circle cx="448.1" cy="375.4" r="4.1"/>
<circle cx="448.6" cy="374.7" r="4.1"/>
<circle cx="449.2" cy="374.5" r="4.1"/>
<circle cx="449.7" cy="373.6" r="4.1"/>
<circle cx="450.3" cy="373.2" r="4.1"/>
<circle cx="450.8" cy="372.7" r="4.1"/>
<circle cx="451.3" cy="372.4" r="4.1"/>
<circle cx="451.9" cy="371.9" r="4.1"/>
<circle cx="452.4" cy="371.5" r="4.1"/>
<circle cx="453" cy="371.2" r="4.1"/>
<circle cx="453.5" cy="370.5" r="4.1"/>
<circle cx="454" cy="370.3" r="4.1"/>
<circle cx="454.6" cy="369.7" r="4.1"/>
<circle cx="455.1" cy="369.5" r="4.1"/>
<circle cx="455.6" cy="368.7" r="4.1"/>
<circle cx="456.2" cy="368.4" r="4.1"/>
<circle cx="456.7" cy="368.3" r="4.1"/>
<circle cx="457.3" cy="367.6" r="4.1"/>
<circle cx="457.8" cy="367.3" r="4.1"/>
<circle cx="458.3" cy="366.8" r="4.1"/>
<circle cx="458.9" cy="366.3" r="4.1"/>
<circle cx="459.4" cy="365.6" r="4.1"/>
<circle cx="459.9" cy="365.4" r="4.1"/>
<circle cx="460.5" cy="364.6" r="4.1"/>
<circle cx="461" cy="364.6" r="4.1"/>
<circle cx="461.5" cy="364.2" r="4.1"/>
<circle cx="462.1" cy="363.7" r="4.1"/>
<circle cx="462.6" cy="362.8" r="4.1"/>
<circle cx="463.1" cy="362.5" r="4.1"/>
<circle cx="463.7" cy="362.1" r="4.1"/>
<circle cx="464.2" cy="361.5" r="4.1"/>
<circle cx="464.7" cy="361.3" r="4.1"/>
<circle cx="465.3" cy="361" r="4.1"/>
<circle cx="465.8" cy="360.3" r="4.1"/>
<circle cx="466.3" cy="360.1" r="4.1"/>
<circle cx="466.9" cy="359.6" r="4.1"/>
<circle cx="467.4" cy="358.8" r="4.1"/>
<circle cx="467.9" cy="358.7" r="4.1"/>
<circle cx="468.5" cy="358.3" r="4.1"/>
<circle cx="469" cy="357.5" r="4.1"/>
<circle cx="469.5" cy="357.2" r="4.1"/>
<circle cx="470.1" cy="356.8" r="4.1"/>
<circle cx="470.6" cy="356.3" r="4.1"/>
<circle cx="471.1" cy="355.6" r="4.1"/>
<circle cx="471.7" cy="355.4" r="4.1"/>
<circle cx="472.2" cy="355" r="4.1"/>
<circle cx="472.7" cy="354.6" r="4.1"/>
<circle cx="473.3" cy="354.2" r="4.1"/>
<circle cx="473.8" cy="353.4" r="4.1"/>
<circle cx="474.3" cy="353.2" r="4.1"/>
<circle cx="474.8" cy="352.8" r="4.1"/>
<circle cx="475.4" cy="352.4" r="4.1"/>
<circle cx="475.9" cy="351.5" r="4.1"/>
<circle cx="476.4" cy="351" r="4.1"/>
<circle cx="477" cy="350.9" r="4.1"/>
<circle cx="477.5" cy="350.2" r="4.1"/>
<circle cx="478" cy="349.9" r="4.1"/>
<circle cx="478.6" cy="349.7" r="4.1"/>
<circle cx="479.1" cy="348.9" r="4.1"/>
<circle cx="479.6" cy="348.4" r="4.1"/>
<circle cx="480.1" cy="348" r="4.1"/>
<circle cx="480.7" cy="347.7" r="4.1"/>
<circle cx="481.2" cy="346.9" r="4.1"/>
<circle cx="481.7" cy="346.6" r="4.1"/>
<circle cx="482.3" cy="346" r="4.1"/>
<circle cx="482.8" cy="345.8" r="4.1"/>
<circle cx="483.3" cy="345.5" r="4.1"/>
<circle cx="483.8" cy="344.8" r="4.1"/>
<circle cx="484.4" cy="344.3" r="4.1"/>
<circle cx="484.9" cy="343.9" r="4.1"/>
<circle cx="485.4" cy="343.3" r="4.1"/>
<circle cx="486" cy="342.9" r="4.1"/>
<circle cx="486.5" cy="342.4" r="4.1"/>
<circle cx="487" cy="342.1" r="4.1"/>
<circle cx="487.6" cy="341.4" r="4.1"/>
<circle cx="488.1" cy="341.3" r="4.1"/>
<circle cx="488.6" cy="340.7" r="4.1"/>
<circle cx="489.1" cy="340.1" r="4.1"/>
<circle cx="489.7" cy="339.5" r="4.1"/>
<circle cx="490.2" cy="339.5" r="4.1"/>
<circle cx="490.7" cy="338.7" r="4.1"/>
<circle cx="491.3" cy="338.2" r="4.1"/>
<circle cx="491.8" cy="337.7" r="4.1"/>
<circle cx="492.3" cy="337.3" r="4.1"/>
<circle cx="492.8" cy="337.3" r="4.1"/>
<circle cx="493.4" cy="336.4" r="4.1"/>
<circle cx="493.9" cy="336" r="4.1"/>
<circle cx="494.4" cy="335.8" r="4.1"/>
<circle cx="495" cy="335.3" r="4.1"/>
<circle cx="495.5" cy="334.6" r="4.1"/>
<circle cx="496" cy="334.3" r="4.1"/>
<circle cx="496.6" cy="334" r="4.1"/>
<circle cx="497.1" cy="333.3" r="4.1"/>
<circle cx="497.6" cy="333" r="4.1"/>
<circle cx="498.1" cy="332.2" r="4.1"/>
<circle cx="498.7" cy="332.1" r="4.1"/>
<circle cx="499.2" cy="331.7" r="4.1"/>
<circle cx="499.7" cy="331.3" r="4.1"/>
<circle cx="500.3" cy="330.7" r="4.1"/>
<circle cx="500.8" cy="330.1" r="4.1"/>
<circle cx="501.3" cy="329.5" r="4.1"/>
<circle cx="501.9" cy="329.3" r="4.1"/>
<circle cx="502.4" cy="329" r="4.1"/>
<circle cx="502.9" cy="328.2" r="4.1"/>
<circle cx="503.5" cy="327.8" r="4.1"/>
<circle cx="504" cy="327.5" r="4.1"/>
<circle cx="504.5" cy="327.2" r="4.1"/>
<circle cx="505.1" cy="326.8" r="4.1"/>
<circle cx="505.6" cy="325.9" r="4.1"/>
<circle cx="506.1" cy="325.5" r="4.1"/>
<circle cx="506.7" cy="325.4" r="4.1"/>
<circle cx="507.2" cy="324.8" r="4.1"/>
<circle cx="507.7" cy="324.4" r="4.1"/>
<circle cx="508.3" cy="324.1" r="4.1"/>
<circle cx="508.8" cy="323.7" r="4.1"/>
<circle cx="509.4" cy="323.2" r="4.1"/>
<circle cx="509.9" cy="322.7" r="4.1"/>
<circle cx="510.4" cy="322" r="4.1"/>
<circle cx="511" cy="321.7" r="4.1"/>
<circle cx="511.5" cy="321" r="4.1"/>
<circle cx="512.1" cy="320.9" r="4.1"/>
<circle cx="512.6" cy="320.4" r="4.1"/>
<circle cx="513.1" cy="320" r="4.1"/>
<circle cx="513.7" cy="319.4" r="4.1"/>
<circle cx="514.2" cy="318.9" r="4.1"/>
<circle cx="514.8" cy="318.5" r="4.1"/>
<circle cx="515.3" cy="317.8" r="4.1"/>
<circle cx="515.8" cy="317.8" r="4.1"/>
<circle cx="516.4" cy="317.2" r="4.1"/>
<circle cx="516.9" cy="316.7" r="4.1"/>
<circle cx="517.5" cy="316.3" r="4.1"/>
<circle cx="518" cy="316" r="4.1"/>
<circle cx="518.6" cy="315.3" r="4.1"/>
<circle cx="519.1" cy="315.2" r="4.1"/>
<circle cx="519.7" cy="314.8" r="4.1"/>
<circle cx="520.2" cy="314" r="4.1"/>
<circle cx="520.7" cy="313.5" r="4.1"/>
<circle cx="521.3" cy="313.4" r="4.1"/>
<circle cx="521.8" cy="313.1" r="4.1"/>
<circle cx="522.4" cy="312.2" r="4.1"/>
<circle cx="522.9" cy="312" r="4.1"/>
<circle cx="523.5" cy="311.7" r="4.1"/>
<circle cx="524" cy="311.3" r="4.1"/>
<circle cx="524.6" cy="310.4" r="4.1"/>
<circle cx="525.1" cy="310" r="4.1"/>
<circle cx="525.7" cy="310" r="4.1"/>
<circle cx="526.3" cy="309.1" r="4.1"/>
<circle cx="526.8" cy="308.7" r="4.1"/>
<circle cx="527.4" cy="308.5" r="4.1"/>
<circle cx="527.9" cy="308" r="4.1"/>
<circle cx="528.5" cy="307.8" r="4.1"/>
<circle cx="529" cy="307" r="4.1"/>
<circle cx="529.6" cy="307" r="4.1"/>
<circle cx="530.1" cy="306.2" r="4.1"/>
<circle cx="530.7" cy="306.1" r="4.1"/>
<circle cx="531.3" cy="305.3" r="4.1"/>
<circle cx="531.8" cy="305.1" r="4.1"/>
<circle cx="532.4" cy="304.4" r="4.1"/>
<circle cx="532.9" cy="304.2" r="4.1"/>
<circle cx="533.5" cy="303.7" r="4.1"/>
<circle cx="534.1" cy="303.6" r="4.1"/>
<circle cx="534.6" cy="303" r="4.1"/>
<circle cx="535.2" cy="302.4" r="4.1"/>
<circle cx="535.8" cy="302.5" r="4.1"/>
<circle cx="536.3" cy="302" r="4.1"/>
<circle cx="536.9" cy="301.6" r="4.1"/>
<circle cx="537.5" cy="300.8" r="4.1"/>
<circle cx="538" cy="300.5" r="4.1"/>
<circle cx="538.6" cy="300" r="4.1"/>
<circle cx="539.2" cy="299.5" r="4.1"/>
<circle cx="539.7" cy="299.1" r="4.1"/>
<circle cx="540.3" cy="298.9" r="4.1"/>
<circle cx="540.9" cy="298.3" r="4.1"/>
<circle cx="541.5" cy="297.9" r="4.1"/>
<circle cx="542" cy="297.9" r="4.1"/>
<circle cx="542.6" cy="297.3" r="4.1"/>
<circle cx="543.2" cy="296.7" r="4.1"/>
<circle cx="543.8" cy="296.6" r="4.1"/>
<circle cx="544.3" cy="296" r="4.1"/>
<circle cx="544.9" cy="295.7" r="4.1"/>
<circle cx="545.5" cy="295.2" r="4.1"/>
<circle cx="546.1" cy="294.9" r="4.1"/>
<circle cx="546.6" cy="294.6" r="4.1"/>
<circle cx="547.2" cy="294.2" r="4.1"/>
<circle cx="547.8" cy="293.7" r="4.1"/>
<circle cx="548.4" cy="293.5" r="4.1"/>
<circle cx="549" cy="293.2" r="4.1"/>
<circle cx="549.5" cy="292.4" r="4.1"/>
<circle cx="550.1" cy="292" r="4.1"/>
<circle cx="550.7" cy="291.6" r="4.1"/>
<circle cx="551.3" cy="291.7" r="4.1"/>
<circle cx="551.9" cy="291.3" r="4.1"/>
<circle cx="552.5" cy="290.5" r="4.1"/>
<circle cx="553.1" cy="290.6" r="4.1"/>
<circle cx="553.7" cy="289.8" r="4.1"/>
<circle cx="554.2" cy="289.5" r="4.1"/>
<circle cx="554.8" cy="289.2" r="4.1"/>
<circle cx="555.4" cy="289" r="4.1"/>
<circle cx="556" cy="288.2" r="4.1"/>
<circle cx="556.6" cy="287.9" r="4.1"/>
<circle cx="557.2" cy="287.7" r="4.1"/>
<circle cx="557.8" cy="287.1" r="4.1"/>
<circle cx="558.4" cy="286.8" r="4.1"/>
<circle cx="559" cy="286.6" r="4.1"/>
<circle cx="559.6" cy="286.4" r="4.1"/>
<circle cx="560.2" cy="286" r="4.1"/>
<circle cx="560.8" cy="285.7" r="4.1"/>
<circle cx="561.4" cy="285.3" r="4.1"/>
<circle cx="562" cy="284.9" r="4.1"/>
<circle cx="562.6" cy="284.6" r="4.1"/>
<circle cx="563.2" cy="284.2" r="4.1"/>
<circle cx="563.8" cy="283.8" r="4.1"/>
<circle cx="564.4" cy="283.3" r="4.1"/>
<circle cx="565" cy="282.8" r="4.1"/>
<circle cx="565.6" cy="282.8" r="4.1"/>
<circle cx="566.2" cy="282.1" r="4.1"/>
<circle cx="566.8" cy="282.2" r="4.1"/>
<circle cx="567.5" cy="281.7" r="4.1"/>
<circle cx="568.1" cy="281.2" r="4.1"/>
<circle cx="568.7" cy="281.2" r="4.1"/>
<circle cx="569.3" cy="280.4" r="4.1"/>
<circle cx="569.9" cy="280.3" r="4.1"/>
<circle cx="570.5" cy="279.7" r="4.1"/>
<circle cx="571.1" cy="279.9" r="4.1"/>
<circle cx="571.8" cy="279.3" r="4.1"/>
<circle cx="572.4" cy="279.1" r="4.1"/>
<circle cx="573" cy="278.5" r="4.1"/>
<circle cx="573.6" cy="278.5" r="4.1"/>
<circle cx="574.2" cy="278.1" r="4.1"/>
<circle cx="574.9" cy="277.7" r="4.1"/>
<circle cx="575.5" cy="277.6" r="4.1"/>
<circle cx="576.1" cy="277" r="4.1"/>
<circle cx="576.7" cy="276.7" r="4.1"/>
<circle cx="577.4" cy="276.5" r="4.1"/>
<circle cx="578" cy="276.3" r="4.1"/>
<circle cx="578.6" cy="275.7" r="4.1"/>
<circle cx="579.2" cy="275.6" r="4.1"/>
<circle cx="579.9" cy="275" r="4.1"/>
<circle cx="580.5" cy="274.9" r="4.1"/>
<circle cx="581.1" cy="274.7" r="4.1"/>
<circle cx="581.8" cy="274" r="4.1"/>
<circle cx="582.4" cy="274.1" r="4.1"/>
<circle cx="583" cy="273.4" r="4.1"/>
<circle cx="583.7" cy="273.6" r="4.1"/>
<circle cx="584.3" cy="273.1" r="4.1"/>
<circle cx="585" cy="272.8" r="4.1"/>
<circle cx="585.6" cy="272.6" r="4.1"/>
<circle cx="586.2" cy="272.3" r="4.1"/>
<circle cx="586.9" cy="272.1" r="4.1"/>
<circle cx="587.5" cy="271.5" r="4.1"/>
<circle cx="588.2" cy="271.4" r="4.1"/>
<circle cx="588.8" cy="271.2" r="4.1"/>
<circle cx="589.4" cy="271.1" r="4.1"/>
<circle cx="590.1" cy="270.3" r="4.1"/>
<circle cx="590.7" cy="270.3" r="4.1"/>
<circle cx="591.4" cy="270.1" r="4.1"/>
<circle cx="592" cy="269.8" r="4.1"/>
<circle cx="592.7" cy="269.3" r="4.1"/>
<circle cx="593.3" cy="269.4" r="4.1"/>
<circle cx="594" cy="268.9" r="4.1"/>
<circle cx="594.7" cy="268.6" r="4.1"/>
<circle cx="595.3" cy="268.8" r="4.1"/>
<circle cx="596" cy="268.1" r="4.1"/>
<circle cx="596.6" cy="268" r="4.1"/>
<circle cx="597.3" cy="268" r="4.1"/>
<circle cx="597.9" cy="267.7" r="4.1"/>
<circle cx="598.6" cy="267.4" r="4.1"/>
<circle cx="599.3" cy="267.3" r="4.1"/>
<circle cx="599.9" cy="266.9" r="4.1"/>
<circle cx="600.6" cy="266.8" r="4.1"/>
<circle cx="601.3" cy="266.6" r="4.1"/>
<circle cx="601.9" cy="266.3" r="4.1"/>
<circle cx="602.6" cy="266.1" r="4.1"/>
<circle cx="603.3" cy="265.8" r="4.1"/>
<circle cx="603.9" cy="265.6" r="4.1"/>
<circle cx="604.6" cy="265.4" r="4.1"/>
<circle cx="605.3" cy="265.3" r="4.1"/>
<circle cx="605.9" cy="264.9" r="4.1"/>
<circle cx="606.6" cy="264.8" r="4.1"/>
<circle cx="607.3" cy="264.8" r="4.1"/>
<circle cx="608" cy="264.4" r="4.1"/>
<circle cx="608.6" cy="264.2" r="4.1"/>
<circle cx="609.3" cy="264.3" r="4.1"/>
<circle cx="610" cy="263.8" r="4.1"/>
<circle cx="610.7" cy="263.9" r="4.1"/>
<circle cx="611.3" cy="263.7" r="4.1"/>
<circle cx="612" cy="263.3" r="4.1"/>
<circle cx="612.7" cy="263.3" r="4.1"/>
<circle cx="613.4" cy="262.8" r="4.1"/>
<circle cx="614.1" cy="262.8" r="4.1"/>
<circle cx="614.7" cy="262.9" r="4.1"/>
<circle cx="615.4" cy="262.6" r="4.1"/>
<circle cx="616.1" cy="262.5" r="4.1"/>
<circle cx="616.8" cy="262.4" r="4.1"/>
<circle cx="617.5" cy="262.3" r="4.1"/>
<circle cx="618.2" cy="262.1" r="4.1"/>
<circle cx="618.9" cy="261.9" r="4.1"/>
<circle cx="619.5" cy="261.6" r="4.1"/>
<circle cx="620.2" cy="261.5" r="4.1"/>
<circle cx="620.9" cy="261.4" r="4.1"/>
<circle cx="621.6" cy="261.4" r="4.1"/>
<circle cx="622.3" cy="261.6" r="4.1"/>
<circle cx="623" cy="261.1" r="4.1"/>
<circle cx="623.7" cy="261.1" r="4.1"/>
<circle cx="624.4" cy="260.9" r="4.1"/>
<circle cx="625.1" cy="261" r="4.1"/>
<circle cx="625.8" cy="261.1" r="4.1"/>
<circle cx="626.5" cy="261" r="4.1"/>
<circle cx="627.2" cy="260.6" r="4.1"/>
<circle cx="627.9" cy="260.5" r="4.1"/>
<circle cx="628.6" cy="260.7" r="4.1"/>
<circle cx="629.3" cy="260.4" r="4.1"/>
<circle cx="629.9" cy="260.5" r="4.1"/>
<circle cx="630.6" cy="260.1" r="4.1"/>
<circle cx="631.3" cy="260.5" r="4.1"/>
<circle cx="632" cy="260.1" r="4.1"/>
<circle cx="632.7" cy="260.2" r="4.1"/>
<circle cx="633.4" cy="260" r="4.1"/>
<circle cx="634.1" cy="260.1" r="4.1"/>
<circle cx="634.8" cy="260.3" r="4.1"/>
<circle cx="635.5" cy="260.2" r="4.1"/>
<circle cx="636.2" cy="260" r="4.1"/>
<circle cx="636.9" cy="260.2" r="4.1"/>
<circle cx="637.6" cy="260" r="4.1"/>
<circle cx="638.3" cy="259.9" r="4.1"/>
<circle cx="639" cy="260" r="4.1"/>
<circle cx="639.7" cy="259.8" r="4.1"/>
<circle cx="640.4" cy="259.9" r="4.1"/>
<circle cx="641.1" cy="260.2" r="4.1"/>
<circle cx="641.8" cy="260.2" r="4.1"/>
<circle cx="642.5" cy="259.8" r="4.1"/>
<circle cx="643.2" cy="260.2" r="4.1"/>
<circle cx="643.9" cy="260.3" r="4.1"/>
<circle cx="644.6" cy="260.2" r="4.1"/>
<circle cx="645.3" cy="260" r="4.1"/>
<circle cx="646" cy="260.4" r="4.1"/>
<circle cx="646.7" cy="260.2" r="4.1"/>
<circle cx="647.4" cy="260.5" r="4.1"/>
<circle cx="648.1" cy="260.4" r="4.1"/>
<circle cx="648.8" cy="260.6" r="4.1"/>
<circle cx="649.5" cy="260.5" r="4.1"/>
<circle cx="650.2" cy="260.7" r="4.1"/>
<circle cx="650.9" cy="260.8" r="4.1"/>
<circle cx="651.6" cy="260.9" r="4.1"/>
<circle cx="652.3" cy="260.8" r="4.1"/>
<circle cx="653" cy="261.3" r="4.1"/>
<circle cx="653.7" cy="261" r="4.1"/>
<circle cx="654.4" cy="261.2" r="4.1"/>
<circle cx="655.1" cy="261.2" r="4.1"/>
<circle cx="655.8" cy="261.3" r="4.1"/>
<circle cx="656.4" cy="261.6" r="4.1"/>
<circle cx="657.1" cy="261.9" r="4.1"/>
<circle cx="657.8" cy="262" r="4.1"/>
<circle cx="658.5" cy="261.9" r="4.1"/>
<circle cx="659.2" cy="262" r="4.1"/>
<circle cx="659.9" cy="262.2" r="4.1"/>
<circle cx="660.6" cy="262.6" r="4.1"/>
<circle cx="661.2" cy="262.6" r="4.1"/>
<circle cx="661.9" cy="263" r="4.1"/>
<circle cx="662.6" cy="263.1" r="4.1"/>
<circle cx="663.3" cy="263.2" r="4.1"/>
<circle cx="663.9" cy="263.5" r="4.1"/>
<circle cx="664.6" cy="263.7" r="4.1"/>
<circle cx="665.3" cy="263.6" r="4.1"/>
<circle cx="666" cy="263.8" r="4.1"/>
<circle cx="666.6" cy="264.1" r="4.1"/>
<circle cx="667.3" cy="264.3" r="4.1"/>
<circle cx="668" cy="264.3" r="4.1"/>
<circle cx="668.6" cy="264.7" r="4.1"/>
<circle cx="669.3" cy="265" r="4.1"/>
<circle cx="670" cy="265" r="4.1"/>
<circle cx="670.6" cy="265.2" r="4.1"/>
<circle cx="671.3" cy="265.4" r="4.1"/>
<circle cx="672" cy="265.7" r="4.1"/>
<circle cx="672.6" cy="266.3" r="4.1"/>
<circle cx="673.3" cy="266.1" r="4.1"/>
<circle cx="673.9" cy="266.4" r="4.1"/>
<circle cx="674.6" cy="266.6" r="4.1"/>
<circle cx="675.2" cy="267" r="4.1"/>
<circle cx="675.9" cy="267" r="4.1"/>
<circle cx="676.5" cy="267.6" r="4.1"/>
<circle cx="677.2" cy="267.7" r="4.1"/>
<circle cx="677.8" cy="268" r="4.1"/>
<circle cx="678.5" cy="268.5" r="4.1"/>
<circle cx="679.1" cy="268.5" r="4.1"/>
<circle cx="679.8" cy="269" r="4.1"/>
<circle cx="680.4" cy="269.2" r="4.1"/>
<circle cx="681.1" cy="269.4" r="4.1"/>
<circle cx="681.7" cy="270" r="4.1"/>
<circle cx="682.3" cy="269.9" r="4.1"/>
<circle cx="683" cy="270.6" r="4.1"/>
<circle cx="683.6" cy="270.9" r="4.1"/>
<circle cx="684.2" cy="271.1" r="4.1"/>
<circle cx="684.9" cy="271" r="4.1"/>
<circle cx="685.5" cy="271.7" r="4.1"/>
<circle cx="686.1" cy="271.9" r="4.1"/>
<circle cx="686.7" cy="272.3" r="4.1"/>
<circle cx="687.4" cy="272.3" r="4.1"/>
<circle cx="688" cy="273.1" r="4.1"/>
<circle cx="688.6" cy="273.4" r="4.1"/>
<circle cx="689.2" cy="273.2" r="4.1"/>
<circle cx="689.9" cy="273.7" r="4.1"/>
<circle cx="690.5" cy="273.9" r="4.1"/>
<circle cx="691.1" cy="274.6" r="4.1"/>
<circle cx="691.7" cy="275" r="4.1"/>
<circle cx="692.3" cy="275.4" r="4.1"/>
<circle cx="692.9" cy="275.5" r="4.1"/>
<circle cx="693.5" cy="275.9" r="4.1"/>
<circle cx="694.2" cy="276.2" r="4.1"/>
<circle cx="694.8" cy="276.5" r="4.1"/>
<circle cx="695.4" cy="277.1" r="4.1"/>
<circle cx="696" cy="277.2" r="4.1"/>
<circle cx="696.6" cy="277.4" r="4.1"/>
<circle cx="697.2" cy="277.9" r="4.1"/>
<circle cx="697.8" cy="278" r="4.1"/>
<circle cx="698.4" cy="278.7" r="4.1"/>
<circle cx="699" cy="279.1" r="4.1"/>
<circle cx="699.6" cy="279.3" r="4.1"/>
<circle cx="700.2" cy="279.9" r="4.1"/>
<circle cx="700.8" cy="280.2" r="4.1"/>
<circle cx="701.4" cy="280.4" r="4.1"/>
<circle cx="702" cy="280.6" r="4.1"/>
<circle cx="702.6" cy="281" r="4.1"/>
<circle cx="703.1" cy="281.4" r="4.1"/>
<circle cx="703.7" cy="281.8" r="4.1"/>
<circle cx="704.3" cy="282.3" r="4.1"/>
<circle cx="704.9" cy="282.9" r="4.1"/>
<circle cx="705.5" cy="283" r="4.1"/>
<circle cx="706.1" cy="283.7" r="4.1"/>
<circle cx="706.7" cy="284" r="4.1"/>
<circle cx="707.2" cy="284.5" r="4.1"/>
<circle cx="707.8" cy="284.6" r="4.1"/>
<circle cx="708.4" cy="284.8" r="4.1"/>
<circle cx="709" cy="285.6" r="4.1"/>
<circle cx="709.6" cy="285.7" r="4.1"/>
<circle cx="710.1" cy="286" r="4.1"/>
<circle cx="710.7" cy="286.8" r="4.1"/>
<circle cx="711.3" cy="287.1" r="4.1"/>
<circle cx="711.9" cy="287.3" r="4.1"/>
<circle cx="712.4" cy="287.7" r="4.1"/>
<circle cx="713" cy="288.5" r="4.1"/>
<circle cx="713.6" cy="288.5" r="4.1"/>
<circle cx="714.1" cy="289.2" r="4.1"/>
<circle cx="714.7" cy="289.3" r="4.1"/>
<circle cx="715.3" cy="290.1" r="4.1"/>
<circle cx="715.8" cy="290.1" r="4.1"/>
<circle cx="716.4" cy="290.7" r="4.1"/>
<circle cx="717" cy="290.9" r="4.1"/>
</g>
<g fill="#fff" stroke="#0080ff" stroke-width="2">
<circle cx="717" cy="240.9" r="4.1"/>
<circle cx="717" cy="236.9" r="4.1"/>
<circle cx="717" cy="183.9" r="4.1"/>
<circle cx="717" cy="42.5" r="4.1"/>
<circle cx="717" cy="88.4" r="4.1"/>
<circle cx="717" cy="95.5" r="4.1"/>
<circle cx="717" cy="164.8" r="4.1"/>
<circle cx="717" cy="211.5" r="4.1"/>
<circle cx="717" cy="260.8" r="4.1"/>
<circle cx="717" cy="272" r="4.1"/>
<circle cx="717.9" cy="279.5" r="4.1"/>
</g>
<g fill="none" stroke="#0080ff" stroke-width="2">
<circle cx="718.2" cy="283.8" r="4.1"/>
<circle cx="718.3" cy="285.2" r="4.1"/>
<circle cx="718.4" cy="286.6" r="4.1"/>
<circle cx="718.5" cy="288" r="4.1"/>
<circle cx="717.5" cy="291.6" r="4.1"/>
<circle cx="718.1" cy="292.2" r="4.1"/>
<circle cx="718.6" cy="292.1" r="4.1"/>
<circle cx="719.2" cy="292.7" r="4.1"/>
<circle cx="719.8" cy="293.4" r="4.1"/>
<circle cx="720.3" cy="293.7" r="4.1"/>
<circle cx="720.9" cy="294" r="4.1"/>
<circle cx="721.4" cy="294.6" r="4.1"/>
<circle cx="722" cy="294.9" r="4.1"/>
<circle cx="722.5" cy="295.6" r="4.1"/>
<circle cx="723.1" cy="295.7" r="4.1"/>
<circle cx="723.6" cy="296.4" r="4.1"/>
<circle cx="724.2" cy="296.7" r="4.1"/>
<circle cx="724.7" cy="297.2" r="4.1"/>
<circle cx="725.3" cy="297.4" r="4.1"/>
<circle cx="725.8" cy="298.1" r="4.1"/>
<circle cx="726.4" cy="298.5" r="4.1"/>
<circle cx="726.9" cy="298.8" r="4.1"/>
<circle cx="727.5" cy="299" r="4.1"/>
<circle cx="728" cy="300" r="4.1"/>
<circle cx="728.6" cy="300.3" r="4.1"/>
<circle cx="729.1" cy="300.4" r="4.1"/>
<circle cx="729.7" cy="301.1" r="4.1"/>
<circle cx="730.2" cy="301.3" r="4.1"/>
<circle cx="730.7" cy="301.9" r="4.1"/>
<circle cx="731.3" cy="302.5" r="4.1"/>
<circle cx="731.8" cy="302.8" r="4.1"/>
<circle cx="732.4" cy="303.1" r="4.1"/>
<circle cx="732.9" cy="303.6" r="4.1"/>
<circle cx="733.4" cy="303.9" r="4.1"/>
<circle cx="734" cy="304.4" r="4.1"/>
<circle cx="734.5" cy="304.9" r="4.1"/>
<circle cx="735.1" cy="305.3" r="4.1"/>
<circle cx="735.6" cy="305.7" r="4.1"/>
<circle cx="736.1" cy="306.4" r="4.1"/>
<circle cx="736.7" cy="306.7" r="4.1"/>
<circle cx="737.2" cy="307.4" r="4.1"/>
<circle cx="737.7" cy="308" r="4.1"/>
<circle cx="738.3" cy="308.1" r="4.1"/>
<circle cx="738.8" cy="308.7" r="4.1"/>
<circle cx="739.3" cy="309.1" r="4.1"/>
<circle cx="739.8" cy="309.3" r="4.1"/>
<circle cx="740.4" cy="309.8" r="4.1"/>
<circle cx="740.9" cy="310.7" r="4.1"/>
<circle cx="741.4" cy="310.9" r="4.1"/>
<circle cx="742" cy="311.6" r="4.1"/>
<circle cx="742.5" cy="311.6" r="4.1"/>
<circle cx="743" cy="312.4" r="4.1"/>
<circle cx="743.6" cy="313" r="4.1"/>
<circle cx="744.1" cy="313.4" r="4.1"/>
<circle cx="744.6" cy="313.4" r="4.1"/>
<circle cx="745.1" cy="314.2" r="4.1"/>
<circle cx="745.7" cy="314.5" r="4.1"/>
<circle cx="746.2" cy="315.2" r="4.1"/>
<circle cx="746.7" cy="315.3" r="4.1"/>
<circle cx="747.2" cy="315.9" r="4.1"/>
<circle cx="747.8" cy="316.6" r="4.1"/>
<circle cx="748.3" cy="316.9" r="4.1"/>
<circle cx="748.8" cy="317.4" r="4.1"/>
<circle cx="749.3" cy="318.1" r="4.1"/>
<circle cx="749.8" cy="318.2" r="4.1"/>
<circle cx="750.4" cy="318.5" r="4.1"/>
<circle cx="750.9" cy="319.2" r="4.1"/>
<circle cx="751.4" cy="319.5" r="4.1"/>
<circle cx="751.9" cy="320" r="4.1"/>
<circle cx="752.4" cy="320.7" r="4.1"/>
<circle cx="753" cy="321.4" r="4.1"/>
<circle cx="753.5" cy="321.7" r="4.1"/>
<circle cx="754" cy="322.2" r="4.1"/>
<circle cx="754.5" cy="322.5" r="4.1"/>
<circle cx="755" cy="323.1" r="4.1"/>
<circle cx="755.6" cy="323.6" r="4.1"/>
<circle cx="756.1" cy="324" r="4.1"/>
<circle cx="756.6" cy="324.6" r="4.1"/>
<circle cx="757.1" cy="324.9" r="4.1"/>
<circle cx="757.6" cy="325.2" r="4.1"/>
<circle cx="758.1" cy="325.9" r="4.1"/>
<circle cx="758.7" cy="326.3" r="4.1"/>
<circle cx="759.2" cy="326.6" r="4.1"/>
<circle cx="759.7" cy="327.3" r="4.1"/>
<circle cx="760.2" cy="327.9" r="4.1"/>
<circle cx="760.7" cy="328" r="4.1"/>
<circle cx="761.2" cy="328.7" r="4.1"/>
<circle cx="761.8" cy="329.3" r="4.1"/>
<circle cx="762.3" cy="329.6" r="4.1"/>
<circle cx="762.8" cy="330" r="4.1"/>
<circle cx="763.3" cy="330.5" r="4.1"/>
<circle cx="763.8" cy="331.1" r="4.1"/>
<circle cx="764.3" cy="331.6" r="4.1"/>
<circle cx="764.8" cy="332" r="4.1"/>
<circle cx="765.4" cy="332.3" r="4.1"/>
<circle cx="765.9" cy="333.1" r="4.1"/>
<circle cx="766.4" cy="333.7" r="4.1"/>
<circle cx="766.9" cy="333.7" r="4.1"/>
</g>
<g fill="#fff" stroke="#0080ff" stroke-width="2">
<circle cx="767.4" cy="334.4" r="4.1"/>
<circle cx="767.9" cy="334.9" r="4.1"/>
<circle cx="768.4" cy="335.3" r="4.1"/>
<circle cx="768.9" cy="335.8" r="4.1"/>
<circle cx="769.5" cy="336.3" r="4.1"/>
<circle cx="770" cy="336.8" r="4.1"/>
<circle cx="770.5" cy="337.3" r="4.1"/>
<circle cx="771" cy="337.7" r="4.1"/>
<circle cx="771.2" cy="337.6" r="4.1"/>
</g>
<path fill="none" stroke="#ff0000" stroke-width="3.6" stroke-linecap="round" stroke-linejoin="round" d="M118 503.3L120 503.2L122 503.2L124 503.1L126 503.1L128 503.1L130 503L132 503L134 502.9L136 502.9L138 502.9L140 502.8L142 502.8L144 502.7L146 502.7L148 502.6L150 502.6L152 502.5L154 502.5L156 502.4L158 502.4L160 502.3L162 502.2L164 502.2L166 502.1L168 502L170 501.9L172 501.9L174 501.8L176 501.7L178 501.6L180 501.5L182 501.4L184 501.3L186 501.2L188 501.1L190 501L192 500.8L194 500.7L196 500.6L198 500.4L200 500.3L202 500.1L204 500L206 499.8L208 499.7L210 499.5L212 499.3L214 499.1L216 498.9L218 498.7L220 498.5L222 498.3L224 498.1L226 497.8L228 497.6L230 497.4L232 497.1L234 496.8L236 496.6L238 496.3L240 496L242 495.7L244 495.4L246 495.1L248 494.8L250 494.4L252 494.1L254 493.7L256 493.4L258 493L260 492.6L262 492.2L264 491.8L266 491.4L268 491L270 490.5L272 490.1L274 489.6L276 489.2L278 488.7L280 488.2L282 487.7L284 487.2L286 486.6L288 486.1L290 485.6L292 485L294 484.4L296 483.8L298 483.2L300 482.6L302 482L304 481.3L306 480.7L308 480L310 479.3L312 478.6L314 477.9L316 477.2L318 476.5L320 475.7L322 474.9L324 474.2L326 473.4L328 472.6L330 471.8L332 470.9L334 470.1L336 469.3L338 468.4L340 467.5L342 466.6L344 465.7L346 464.8L348 463.9L350 463L352 462L354 461.1L356 460.1L358 459.1L360 458.1L362 457.1L364 456.1L366 455.1L368 454L370 453L372 451.9L374 450.8L376 449.7L378 448.7L380 447.5L382 446.4L384 445.3L386 444.1L388 443L390 441.8L392 440.6L394 439.5L396 438.3L398 437.1L400 435.8L402 434.6L404 433.4L406 432.1L408 430.9L410 429.6L412 428.3L414 427L416 425.7L418 424.4L420 423.1L422 421.7L424 420.4L426 419L428 417.7L430 416.3L432 414.9L434 413.5L436 412.1L438 410.7L440 409.3L442 407.9L444 406.5L446 405L448 403.6L450 402.2L452 400.7L454 399.3L456 397.8L458 396.3L460 394.9L462 393.4L464 391.9L466 390.4L468 388.9L470 387.5L472 386L474 384.5L476 383L478 381.5L480 380L482 378.5L484 377L486 375.5L488 374L490 372.5L492 371L494 369.5L496 368L498 366.5L500 365L502 363.5L504 362L506 360.5L508 359L510 357.6L512 356.1L514 354.6L516 353.1L518 351.7L520 350.2L522 348.7L524 347.3L526 345.8L528 344.4L530 343L532 341.5L534 340.1L536 338.7L538 337.3L540 335.9L542 334.5L544 333.1L546 331.8L548 330.4L550 329.1L552 327.8L554 326.4L556 325.1L558 323.8L560 322.6L562 321.3L564 320L566 318.8L568 317.6L570 316.4L572 315.2L574 314L576 312.9L578 311.7L580 310.6L582 309.5L584 308.5L586 307.4L588 306.4L590 305.3L592 304.3L594 303.4L596 302.4L598 301.5L600 300.6L602 299.7L604 298.8L606 298L608 297.2L610 296.4L612 295.7L614 294.9L616 294.2L618 293.6L620 292.9L622 292.3L624 291.7L626 291.1L628 290.6L630 290.1L632 289.6L634 289.2L636 288.8L638 288.4L640 288.1L642 287.8L644 287.6L646 287.3L648 287.2L650 287L652 286.9L654 286.8L656 286.8L658 286.8L660 286.9L662 287L664 287.1L666 287.2L668 287.4L670 287.7L672 288L674 288.3L676 288.6L678 289L680 289.5L682 289.9L684 290.4L686 291L688 291.6L690 292.2L692 292.9L694 293.6L696 294.4L698 295.2L700 296L702 296.9L704 297.8L706 298.8L708 299.8L710 300.8L712 301.9L714 303L716 304.1L718 305.3L720 306.5L722 307.8L724 309L726 310.3L728 311.6L730 312.9L732 314.3L734 315.7L736 317.1L738 318.5L740 320L742 321.4L744 322.9L746 324.4L748 325.9L750 327.4L752 328.9L754 330.5L756 332L758 333.6L760 335.1L762 336.7L764 338.3L766 339.8L768 341.4L770 343L772 344.5L774 346.1L776 347.7L778 349.2L780 350.8L782 352.3L784 353.9L786 355.4L788 356.9L790 358.4L792 359.9L794 361.4L796 362.9L798 364.3L800 365.8"/>
</g>
<g stroke="#000" stroke-width="2" fill="none">
<path d="M118 0V506.5M800 0V506.5M117 0.5H801M117 505.5H801"/>
</g>
<path stroke="#000" stroke-width="1.5" fill="none" d="M118 46.9h9.5M800 46.9h-9.5M118 161.5h5.5M800 161.5h-5.5M118 276.2h9.5M800 276.2h-9.5M118 390.9h5.5M800 390.9h-5.5M173.2 505.5v-5.5M173.2 0.5v5.5M212.3 505.5v-5.5M212.3 0.5v5.5M242.7 505.5v-5.5M242.7 0.5v5.5M267.5 505.5v-5.5M267.5 0.5v5.5M288.5 505.5v-5.5M288.5 0.5v5.5M306.7 505.5v-5.5M306.7 0.5v5.5M322.7 505.5v-5.5M322.7 0.5v5.5M337.1 505.5v-9.5M337.1 0.5v9.5M431.4 505.5v-5.5M431.4 0.5v5.5M486.6 505.5v-5.5M486.6 0.5v5.5M525.8 505.5v-5.5M525.8 0.5v5.5M556.1 505.5v-5.5M556.1 0.5v5.5M580.9 505.5v-5.5M580.9 0.5v5.5M601.9 505.5v-5.5M601.9 0.5v5.5M620.1 505.5v-5.5M620.1 0.5v5.5M636.1 505.5v-5.5M636.1 0.5v5.5M650.5 505.5v-9.5M650.5 0.5v9.5M744.8 505.5v-5.5M744.8 0.5v5.5"/>
<text transform="translate(62.88 56.90) scale(1 1.04)" font-size="33">1<tspan x="17.29">.0</tspan></text>
<text transform="translate(107.70 286.20) scale(1 1.04)" font-size="33" text-anchor="end">0.5</text>
<text transform="translate(107.70 515.50) scale(1 1.04)" font-size="33" text-anchor="end">0.0</text>
<text transform="translate(117.50 541.50) scale(1 1.04)" font-size="33" text-anchor="middle">2</text>
<text transform="translate(319.29 541.50) scale(1 1.04)" font-size="33">1<tspan x="17.30">0</tspan></text>
<text transform="translate(623.52 541.50) scale(1 1.04)" font-size="33">1<tspan x="17.30">00</tspan></text>
<rect x="64.36" y="53.21" width="6.58" height="5.32" fill="#fff"/><rect x="74.31" y="53.21" width="6.33" height="5.32" fill="#fff"/><rect x="320.78" y="537.81" width="6.58" height="5.32" fill="#fff"/><rect x="330.73" y="537.81" width="6.33" height="5.32" fill="#fff"/><rect x="625.01" y="537.81" width="6.58" height="5.32" fill="#fff"/><rect x="634.96" y="537.81" width="6.33" height="5.32" fill="#fff"/>
<text transform="translate(459.30 584.20) scale(1 1.04)" font-size="38" text-anchor="middle">T (K)</text>
<text transform="translate(36.5 384.2) rotate(-90) scale(1 1.04)" font-size="37.3">C/T (J mol<tspan font-size="21.8" dy="-20.00">-1</tspan><tspan dy="20.00"> K</tspan><tspan font-size="21.8" dy="-20.00">-2</tspan><tspan dy="20.00">)</tspan></text>
<g transform="translate(36.5 384.2) rotate(-90)"><rect x="179.18" y="-23.65" width="4.62" height="4.48" fill="#fff"/><rect x="186.18" y="-23.65" width="4.45" height="4.48" fill="#fff"/></g>
<circle cx="227" cy="130" r="4.1" fill="#fff" stroke="#0080ff" stroke-width="2"/>
<text transform="translate(269.6 137.9) scale(1.16 0.93)" font-size="38" style="font-family:'Liberation Serif',serif;stroke-width:0">α</text>
<text transform="translate(290.80 137.70) scale(1 1.04)" font-size="37.3">-RuCl<tspan font-size="21.8" dy="13.65" x="94.60">3</tspan></text>
<path fill="#fff" stroke="#10be4a" stroke-width="1.75" stroke-linejoin="round" d="M587.1 410.9L592.6 405.4L598.1 410.9L592.6 416.4Z"/>
<path stroke="#ff0000" stroke-width="3.6" stroke-linecap="round" d="M567 438.6H618.1"/>
<text transform="translate(632.50 433.70) scale(1 1.04)" font-size="37.5">RhCl<tspan font-size="21.8" dy="14.23" x="82.90">3</tspan></text>
</svg></body></html>
